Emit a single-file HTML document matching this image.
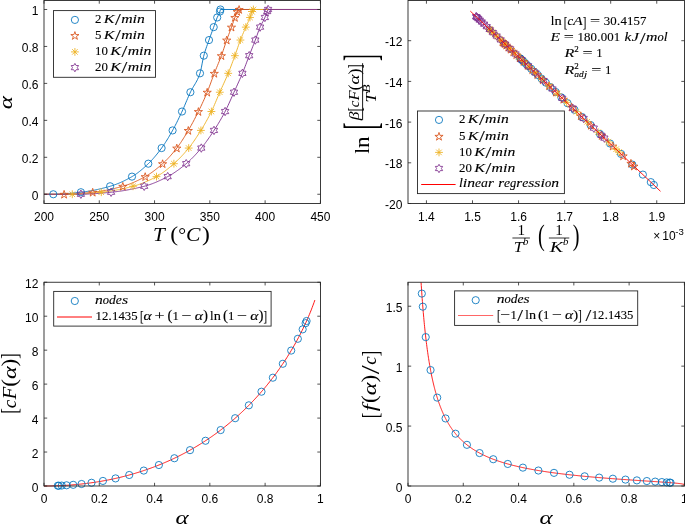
<!DOCTYPE html>
<html><head><meta charset="utf-8"><style>html,body{margin:0;padding:0;background:#fff}svg{display:block}</style></head><body>
<svg width="685" height="524" viewBox="0 0 685 524">
<style>.tk{font-family:'Liberation Sans', Arial, Helvetica, sans-serif;font-size:12px;fill:#000}.s{font-family:'Liberation Serif', 'Times New Roman', serif;fill:#000}.i{font-style:italic}</style>
<defs>
<clipPath id="c1"><rect x="44" y="0.25" width="276.4" height="203.25"/></clipPath>
<clipPath id="c2"><rect x="408" y="0.0" width="276.4" height="203.5"/></clipPath>
<clipPath id="c3"><rect x="44" y="282.25" width="276.4" height="203.75"/></clipPath>
<clipPath id="c4"><rect x="408" y="282.25" width="276.4" height="203.75"/></clipPath>
</defs>
<rect width="685" height="524" fill="#fff"/>
<path d="M44 194.26 L53.3 194.26 L54.06 194.25 L54.83 194.24 L55.59 194.22 L56.35 194.2 L57.12 194.18 L57.88 194.15 L58.64 194.12 L59.4 194.09 L60.17 194.05 L60.93 194.01 L61.69 193.97 L62.46 193.92 L63.22 193.87 L63.98 193.82 L64.75 193.77 L65.51 193.71 L66.27 193.66 L67.03 193.59 L67.8 193.53 L68.56 193.47 L69.32 193.4 L70.09 193.33 L70.85 193.26 L71.61 193.19 L72.38 193.12 L73.14 193.05 L73.9 192.97 L74.66 192.9 L75.43 192.82 L76.19 192.74 L76.95 192.66 L77.72 192.58 L78.48 192.5 L79.24 192.42 L80.01 192.34 L80.77 192.26 L81.53 192.17 L82.29 192.09 L83.06 191.99 L83.82 191.9 L84.58 191.8 L85.35 191.69 L86.11 191.58 L86.87 191.47 L87.64 191.35 L88.4 191.23 L89.16 191.1 L89.92 190.97 L90.69 190.84 L91.45 190.7 L92.21 190.56 L92.98 190.41 L93.74 190.26 L94.5 190.11 L95.27 189.95 L96.03 189.79 L96.79 189.63 L97.55 189.46 L98.32 189.29 L99.08 189.12 L99.84 188.94 L100.61 188.76 L101.37 188.58 L102.13 188.39 L102.9 188.2 L103.66 188.01 L104.42 187.82 L105.18 187.62 L105.95 187.42 L106.71 187.21 L107.47 187.01 L108.24 186.8 L109 186.58 L109.76 186.37 L110.53 186.15 L111.29 185.92 L112.05 185.69 L112.82 185.44 L113.58 185.19 L114.34 184.92 L115.1 184.65 L115.87 184.37 L116.63 184.08 L117.39 183.78 L118.16 183.48 L118.92 183.16 L119.68 182.84 L120.45 182.51 L121.21 182.17 L121.97 181.82 L122.73 181.47 L123.5 181.11 L124.26 180.74 L125.02 180.36 L125.79 179.98 L126.55 179.59 L127.31 179.2 L128.08 178.79 L128.84 178.38 L129.6 177.97 L130.36 177.54 L131.13 177.11 L131.89 176.68 L132.65 176.23 L133.42 175.77 L134.18 175.29 L134.94 174.78 L135.71 174.27 L136.47 173.73 L137.23 173.18 L137.99 172.61 L138.76 172.03 L139.52 171.43 L140.28 170.82 L141.05 170.19 L141.81 169.56 L142.57 168.91 L143.34 168.24 L144.1 167.57 L144.86 166.89 L145.62 166.19 L146.39 165.49 L147.15 164.78 L147.91 164.06 L148.68 163.33 L149.44 162.58 L150.2 161.81 L150.97 161.02 L151.73 160.21 L152.49 159.38 L153.25 158.52 L154.02 157.65 L154.78 156.76 L155.54 155.85 L156.31 154.93 L157.07 153.99 L157.83 153.03 L158.6 152.05 L159.36 151.06 L160.12 150.06 L160.88 149.04 L161.65 148 L162.41 146.95 L163.17 145.86 L163.94 144.74 L164.7 143.6 L165.46 142.43 L166.23 141.23 L166.99 140.01 L167.75 138.77 L168.52 137.51 L169.28 136.22 L170.04 134.92 L170.8 133.6 L171.57 132.26 L172.33 130.91 L173.09 129.53 L173.86 128.13 L174.62 126.69 L175.38 125.22 L176.15 123.72 L176.91 122.19 L177.67 120.64 L178.43 119.07 L179.2 117.48 L179.96 115.88 L180.72 114.26 L181.49 112.63 L182.25 110.99 L183.01 109.3 L183.78 107.57 L184.54 105.79 L185.3 103.99 L186.06 102.17 L186.83 100.36 L187.59 98.56 L188.35 96.78 L189.12 95.03 L189.88 93.34 L190.64 91.71 L191.41 90.2 L192.17 88.81 L192.93 87.5 L193.69 86.23 L194.46 84.98 L195.22 83.71 L195.98 82.39 L196.75 80.99 L197.51 79.47 L198.27 77.81 L199.04 75.97 L199.8 73.91 L200.56 71.35 L201.32 67.85 L202.09 63.86 L202.85 59.88 L203.61 56.4 L204.38 53.63 L205.14 51.12 L205.9 48.78 L206.67 46.58 L207.43 44.45 L208.19 42.33 L208.95 40.19 L209.72 38.02 L210.48 35.9 L211.24 33.82 L212.01 31.75 L212.77 29.68 L213.53 27.59 L214.3 25.46 L215.06 23.27 L215.82 21.09 L216.58 19.02 L217.35 17.13 L218.11 15.67 L218.87 14.32 L219.64 12.6 L220.4 9.49 L320.5 9.49" fill="none" stroke="#0072BD" stroke-width="0.9" stroke-linejoin="round"/>
<path d="M44 194.26 L64.1 194.26 L64.9 194.25 L65.7 194.24 L66.5 194.22 L67.3 194.2 L68.1 194.18 L68.89 194.15 L69.69 194.12 L70.49 194.09 L71.29 194.05 L72.09 194.01 L72.89 193.97 L73.69 193.92 L74.49 193.87 L75.29 193.82 L76.09 193.76 L76.89 193.71 L77.68 193.65 L78.48 193.59 L79.28 193.52 L80.08 193.46 L80.88 193.39 L81.68 193.32 L82.48 193.25 L83.28 193.18 L84.08 193.1 L84.88 193.03 L85.68 192.95 L86.47 192.87 L87.27 192.8 L88.07 192.72 L88.87 192.64 L89.67 192.55 L90.47 192.47 L91.27 192.39 L92.07 192.31 L92.87 192.23 L93.67 192.14 L94.47 192.05 L95.26 191.95 L96.06 191.85 L96.86 191.75 L97.66 191.64 L98.46 191.53 L99.26 191.41 L100.06 191.29 L100.86 191.16 L101.66 191.03 L102.46 190.9 L103.26 190.76 L104.05 190.62 L104.85 190.47 L105.65 190.32 L106.45 190.17 L107.25 190.01 L108.05 189.85 L108.85 189.68 L109.65 189.51 L110.45 189.34 L111.25 189.17 L112.05 188.99 L112.84 188.81 L113.64 188.62 L114.44 188.43 L115.24 188.24 L116.04 188.04 L116.84 187.85 L117.64 187.64 L118.44 187.44 L119.24 187.23 L120.04 187.02 L120.84 186.81 L121.63 186.59 L122.43 186.38 L123.23 186.15 L124.03 185.92 L124.83 185.68 L125.63 185.43 L126.43 185.16 L127.23 184.89 L128.03 184.61 L128.83 184.32 L129.63 184.02 L130.42 183.71 L131.22 183.39 L132.02 183.06 L132.82 182.73 L133.62 182.38 L134.42 182.03 L135.22 181.67 L136.02 181.3 L136.82 180.93 L137.62 180.55 L138.42 180.16 L139.21 179.77 L140.01 179.37 L140.81 178.96 L141.61 178.54 L142.41 178.12 L143.21 177.7 L144.01 177.27 L144.81 176.83 L145.61 176.39 L146.41 175.93 L147.21 175.46 L148 174.97 L148.8 174.46 L149.6 173.94 L150.4 173.41 L151.2 172.86 L152 172.29 L152.8 171.71 L153.6 171.12 L154.4 170.52 L155.2 169.91 L155.99 169.28 L156.79 168.64 L157.59 167.99 L158.39 167.33 L159.19 166.66 L159.99 165.98 L160.79 165.29 L161.59 164.59 L162.39 163.88 L163.19 163.16 L163.99 162.43 L164.78 161.67 L165.58 160.89 L166.38 160.09 L167.18 159.28 L167.98 158.44 L168.78 157.59 L169.58 156.72 L170.38 155.83 L171.18 154.92 L171.98 154 L172.78 153.06 L173.57 152.1 L174.37 151.12 L175.17 150.13 L175.97 149.13 L176.77 148.11 L177.57 147.06 L178.37 145.98 L179.17 144.86 L179.97 143.71 L180.77 142.54 L181.57 141.34 L182.36 140.11 L183.16 138.86 L183.96 137.59 L184.76 136.3 L185.56 134.99 L186.36 133.67 L187.16 132.34 L187.96 131 L188.76 129.65 L189.56 128.27 L190.36 126.87 L191.15 125.44 L191.95 123.99 L192.75 122.51 L193.55 121.02 L194.35 119.5 L195.15 117.97 L195.95 116.41 L196.75 114.84 L197.55 113.25 L198.35 111.64 L199.15 110.02 L199.94 108.37 L200.74 106.7 L201.54 105.01 L202.34 103.3 L203.14 101.56 L203.94 99.79 L204.74 97.98 L205.54 96.15 L206.34 94.28 L207.14 92.37 L207.94 90.4 L208.73 88.34 L209.53 86.22 L210.33 84.05 L211.13 81.86 L211.93 79.66 L212.73 77.48 L213.53 75.34 L214.33 73.25 L215.13 71.23 L215.93 69.27 L216.73 67.33 L217.52 65.41 L218.32 63.48 L219.12 61.53 L219.92 59.54 L220.72 57.49 L221.52 55.35 L222.32 53.1 L223.12 50.75 L223.92 48.34 L224.72 45.91 L225.52 43.5 L226.31 41.15 L227.11 38.9 L227.91 36.73 L228.71 34.6 L229.51 32.48 L230.31 30.36 L231.11 28.21 L231.91 25.99 L232.71 23.7 L233.51 21.39 L234.31 19.12 L235.1 16.91 L235.9 14.56 L236.7 12.45 L237.5 11.07 L238.3 10.07 L239.1 9.49 L320.5 9.49" fill="none" stroke="#D95319" stroke-width="0.9" stroke-linejoin="round"/>
<path d="M44 194.26 L72.3 194.26 L73.13 194.25 L73.95 194.23 L74.78 194.21 L75.61 194.19 L76.43 194.16 L77.26 194.13 L78.09 194.1 L78.92 194.06 L79.74 194.02 L80.57 193.98 L81.4 193.93 L82.22 193.88 L83.05 193.83 L83.88 193.78 L84.7 193.72 L85.53 193.66 L86.36 193.6 L87.18 193.54 L88.01 193.48 L88.84 193.41 L89.67 193.34 L90.49 193.27 L91.32 193.2 L92.15 193.13 L92.97 193.05 L93.8 192.98 L94.63 192.9 L95.45 192.82 L96.28 192.74 L97.11 192.66 L97.94 192.58 L98.76 192.5 L99.59 192.41 L100.42 192.33 L101.24 192.25 L102.07 192.16 L102.9 192.07 L103.72 191.98 L104.55 191.88 L105.38 191.78 L106.2 191.67 L107.03 191.56 L107.86 191.45 L108.69 191.33 L109.51 191.21 L110.34 191.08 L111.17 190.95 L111.99 190.82 L112.82 190.68 L113.65 190.54 L114.47 190.39 L115.3 190.25 L116.13 190.09 L116.95 189.94 L117.78 189.78 L118.61 189.62 L119.44 189.45 L120.26 189.28 L121.09 189.11 L121.92 188.93 L122.74 188.75 L123.57 188.57 L124.4 188.38 L125.22 188.2 L126.05 188 L126.88 187.81 L127.71 187.61 L128.53 187.41 L129.36 187.21 L130.19 187 L131.01 186.79 L131.84 186.58 L132.67 186.36 L133.49 186.14 L134.32 185.91 L135.15 185.68 L135.97 185.43 L136.8 185.17 L137.63 184.91 L138.46 184.63 L139.28 184.35 L140.11 184.05 L140.94 183.75 L141.76 183.44 L142.59 183.12 L143.42 182.79 L144.24 182.46 L145.07 182.12 L145.9 181.76 L146.72 181.4 L147.55 181.04 L148.38 180.66 L149.21 180.28 L150.03 179.89 L150.86 179.5 L151.69 179.09 L152.51 178.68 L153.34 178.27 L154.17 177.84 L154.99 177.42 L155.82 176.98 L156.65 176.54 L157.47 176.08 L158.3 175.6 L159.13 175.1 L159.96 174.58 L160.78 174.04 L161.61 173.49 L162.44 172.92 L163.26 172.33 L164.09 171.73 L164.92 171.11 L165.74 170.48 L166.57 169.83 L167.4 169.18 L168.23 168.51 L169.05 167.83 L169.88 167.14 L170.71 166.45 L171.53 165.74 L172.36 165.03 L173.19 164.32 L174.01 163.59 L174.84 162.86 L175.67 162.11 L176.49 161.34 L177.32 160.55 L178.15 159.74 L178.98 158.92 L179.8 158.09 L180.63 157.23 L181.46 156.36 L182.28 155.48 L183.11 154.58 L183.94 153.66 L184.76 152.72 L185.59 151.77 L186.42 150.81 L187.24 149.83 L188.07 148.83 L188.9 147.82 L189.73 146.79 L190.55 145.72 L191.38 144.63 L192.21 143.5 L193.03 142.36 L193.86 141.19 L194.69 139.99 L195.51 138.78 L196.34 137.54 L197.17 136.29 L197.99 135.01 L198.82 133.73 L199.65 132.42 L200.48 131.1 L201.3 129.77 L202.13 128.42 L202.96 127.05 L203.78 125.66 L204.61 124.24 L205.44 122.79 L206.26 121.32 L207.09 119.83 L207.92 118.3 L208.75 116.74 L209.57 115.16 L210.4 113.54 L211.23 111.88 L212.05 110.18 L212.88 108.4 L213.71 106.55 L214.53 104.64 L215.36 102.7 L216.19 100.73 L217.01 98.76 L217.84 96.79 L218.67 94.83 L219.5 92.91 L220.32 91.04 L221.15 89.19 L221.98 87.37 L222.8 85.56 L223.63 83.75 L224.46 81.93 L225.28 80.1 L226.11 78.23 L226.94 76.33 L227.76 74.38 L228.59 72.37 L229.42 70.3 L230.25 68.18 L231.07 66.02 L231.9 63.83 L232.73 61.6 L233.55 59.36 L234.38 57.1 L235.21 54.83 L236.03 52.49 L236.86 50.09 L237.69 47.66 L238.52 45.26 L239.34 42.91 L240.17 40.66 L241 38.53 L241.82 36.48 L242.65 34.49 L243.48 32.54 L244.3 30.61 L245.13 28.69 L245.96 26.77 L246.78 24.92 L247.61 23.12 L248.44 21.3 L249.27 19.36 L250.09 17.22 L250.92 14.4 L251.75 11.83 L252.57 10.37 L253.4 9.49 L320.5 9.49" fill="none" stroke="#EDB120" stroke-width="0.9" stroke-linejoin="round"/>
<path d="M44 194.26 L80.9 194.26 L81.75 194.25 L82.61 194.23 L83.46 194.21 L84.32 194.19 L85.17 194.16 L86.03 194.13 L86.88 194.1 L87.74 194.06 L88.59 194.02 L89.45 193.98 L90.3 193.93 L91.16 193.89 L92.01 193.84 L92.87 193.78 L93.72 193.73 L94.58 193.67 L95.43 193.61 L96.29 193.55 L97.14 193.48 L98 193.42 L98.85 193.35 L99.71 193.28 L100.56 193.21 L101.42 193.14 L102.27 193.06 L103.12 192.99 L103.98 192.91 L104.83 192.84 L105.69 192.76 L106.54 192.68 L107.4 192.6 L108.25 192.52 L109.11 192.43 L109.96 192.35 L110.82 192.27 L111.67 192.19 L112.53 192.1 L113.38 192.01 L114.24 191.91 L115.09 191.81 L115.95 191.71 L116.8 191.6 L117.66 191.49 L118.51 191.38 L119.37 191.26 L120.22 191.14 L121.08 191.01 L121.93 190.88 L122.78 190.75 L123.64 190.61 L124.49 190.47 L125.35 190.32 L126.2 190.18 L127.06 190.02 L127.91 189.87 L128.77 189.71 L129.62 189.55 L130.48 189.38 L131.33 189.21 L132.19 189.04 L133.04 188.87 L133.9 188.69 L134.75 188.51 L135.61 188.32 L136.46 188.13 L137.32 187.94 L138.17 187.74 L139.03 187.54 L139.88 187.34 L140.74 187.14 L141.59 186.93 L142.45 186.72 L143.3 186.5 L144.15 186.29 L145.01 186.06 L145.86 185.82 L146.72 185.58 L147.57 185.32 L148.43 185.05 L149.28 184.76 L150.14 184.47 L150.99 184.17 L151.85 183.86 L152.7 183.54 L153.56 183.2 L154.41 182.86 L155.27 182.51 L156.12 182.16 L156.98 181.79 L157.83 181.42 L158.69 181.03 L159.54 180.65 L160.4 180.25 L161.25 179.85 L162.11 179.44 L162.96 179.02 L163.82 178.6 L164.67 178.17 L165.52 177.74 L166.38 177.3 L167.23 176.86 L168.09 176.41 L168.94 175.95 L169.8 175.47 L170.65 174.98 L171.51 174.47 L172.36 173.94 L173.22 173.4 L174.07 172.85 L174.93 172.28 L175.78 171.7 L176.64 171.11 L177.49 170.5 L178.35 169.88 L179.2 169.25 L180.06 168.61 L180.91 167.96 L181.77 167.29 L182.62 166.62 L183.48 165.94 L184.33 165.24 L185.18 164.54 L186.04 163.83 L186.89 163.1 L187.75 162.36 L188.6 161.59 L189.46 160.8 L190.31 159.99 L191.17 159.16 L192.02 158.31 L192.88 157.45 L193.73 156.56 L194.59 155.66 L195.44 154.74 L196.3 153.81 L197.15 152.86 L198.01 151.9 L198.86 150.92 L199.72 149.93 L200.57 148.93 L201.43 147.92 L202.28 146.88 L203.14 145.82 L203.99 144.73 L204.85 143.61 L205.7 142.47 L206.55 141.31 L207.41 140.13 L208.26 138.92 L209.12 137.7 L209.97 136.46 L210.83 135.2 L211.68 133.93 L212.54 132.65 L213.39 131.35 L214.25 130.04 L215.1 128.72 L215.96 127.38 L216.81 126.02 L217.67 124.63 L218.52 123.23 L219.38 121.8 L220.23 120.35 L221.09 118.87 L221.94 117.36 L222.8 115.83 L223.65 114.26 L224.51 112.66 L225.36 111.03 L226.22 109.33 L227.07 107.57 L227.92 105.76 L228.78 103.9 L229.63 102.01 L230.49 100.1 L231.34 98.17 L232.2 96.25 L233.05 94.32 L233.91 92.42 L234.76 90.54 L235.62 88.66 L236.47 86.79 L237.33 84.92 L238.18 83.03 L239.04 81.12 L239.89 79.19 L240.75 77.23 L241.6 75.23 L242.46 73.19 L243.31 71.08 L244.17 68.91 L245.02 66.69 L245.88 64.44 L246.73 62.18 L247.58 59.91 L248.44 57.66 L249.29 55.44 L250.15 53.25 L251 51.07 L251.86 48.9 L252.71 46.73 L253.57 44.55 L254.42 42.34 L255.28 40.11 L256.13 37.8 L256.99 35.41 L257.84 33 L258.7 30.65 L259.55 28.44 L260.41 26.44 L261.26 24.66 L262.12 23.02 L262.97 21.42 L263.83 19.77 L264.68 17.97 L265.54 15.9 L266.39 13.59 L267.25 11.4 L268.1 9.49 L320.5 9.49" fill="none" stroke="#7E2F8E" stroke-width="0.9" stroke-linejoin="round"/>
<circle cx="53.3" cy="194.26" r="3.6" fill="none" stroke="#0072BD" stroke-width="0.85"/>
<circle cx="80.9" cy="192.24" r="3.6" fill="none" stroke="#0072BD" stroke-width="0.85"/>
<circle cx="110.1" cy="186.27" r="3.6" fill="none" stroke="#0072BD" stroke-width="0.85"/>
<circle cx="132" cy="176.62" r="3.6" fill="none" stroke="#0072BD" stroke-width="0.85"/>
<circle cx="148.3" cy="163.69" r="3.6" fill="none" stroke="#0072BD" stroke-width="0.85"/>
<circle cx="161.6" cy="148.07" r="3.6" fill="none" stroke="#0072BD" stroke-width="0.85"/>
<circle cx="172.6" cy="130.42" r="3.6" fill="none" stroke="#0072BD" stroke-width="0.85"/>
<circle cx="182" cy="111.53" r="3.6" fill="none" stroke="#0072BD" stroke-width="0.85"/>
<circle cx="190.4" cy="92.22" r="3.6" fill="none" stroke="#0072BD" stroke-width="0.85"/>
<circle cx="200" cy="73.33" r="3.6" fill="none" stroke="#0072BD" stroke-width="0.85"/>
<circle cx="203.8" cy="55.68" r="3.6" fill="none" stroke="#0072BD" stroke-width="0.85"/>
<circle cx="209" cy="40.06" r="3.6" fill="none" stroke="#0072BD" stroke-width="0.85"/>
<circle cx="213.7" cy="27.13" r="3.6" fill="none" stroke="#0072BD" stroke-width="0.85"/>
<circle cx="217.2" cy="17.48" r="3.6" fill="none" stroke="#0072BD" stroke-width="0.85"/>
<circle cx="220" cy="11.51" r="3.6" fill="none" stroke="#0072BD" stroke-width="0.85"/>
<circle cx="220.4" cy="9.49" r="3.6" fill="none" stroke="#0072BD" stroke-width="0.85"/>
<polygon points="64.1,190.36 65.07,193.33 68.19,193.33 65.66,195.17 66.63,198.14 64.1,196.3 61.57,198.14 62.54,195.17 60.01,193.33 63.13,193.33" fill="none" stroke="#D95319" stroke-width="0.85" stroke-linejoin="miter"/>
<polygon points="92.7,188.34 93.67,191.31 96.79,191.31 94.26,193.15 95.23,196.12 92.7,194.29 90.17,196.12 91.14,193.15 88.61,191.31 91.73,191.31" fill="none" stroke="#D95319" stroke-width="0.85" stroke-linejoin="miter"/>
<polygon points="122.8,182.37 123.77,185.35 126.89,185.35 124.36,187.18 125.33,190.15 122.8,188.32 120.27,190.15 121.24,187.18 118.71,185.35 121.83,185.35" fill="none" stroke="#D95319" stroke-width="0.85" stroke-linejoin="miter"/>
<polygon points="145.2,172.72 146.17,175.69 149.29,175.69 146.76,177.52 147.73,180.5 145.2,178.66 142.67,180.5 143.64,177.52 141.11,175.69 144.23,175.69" fill="none" stroke="#D95319" stroke-width="0.85" stroke-linejoin="miter"/>
<polygon points="162.6,159.79 163.57,162.76 166.69,162.76 164.16,164.6 165.13,167.57 162.6,165.74 160.07,167.57 161.04,164.6 158.51,162.76 161.63,162.76" fill="none" stroke="#D95319" stroke-width="0.85" stroke-linejoin="miter"/>
<polygon points="176.8,144.17 177.77,147.14 180.89,147.14 178.36,148.98 179.33,151.95 176.8,150.11 174.27,151.95 175.24,148.98 172.71,147.14 175.83,147.14" fill="none" stroke="#D95319" stroke-width="0.85" stroke-linejoin="miter"/>
<polygon points="188.3,126.52 189.27,129.5 192.39,129.5 189.86,131.33 190.83,134.3 188.3,132.47 185.77,134.3 186.74,131.33 184.21,129.5 187.33,129.5" fill="none" stroke="#D95319" stroke-width="0.85" stroke-linejoin="miter"/>
<polygon points="198.4,107.63 199.37,110.6 202.49,110.6 199.96,112.44 200.93,115.41 198.4,113.57 195.87,115.41 196.84,112.44 194.31,110.6 197.43,110.6" fill="none" stroke="#D95319" stroke-width="0.85" stroke-linejoin="miter"/>
<polygon points="207.2,88.32 208.17,91.29 211.29,91.29 208.76,93.13 209.73,96.1 207.2,94.26 204.67,96.1 205.64,93.13 203.11,91.29 206.23,91.29" fill="none" stroke="#D95319" stroke-width="0.85" stroke-linejoin="miter"/>
<polygon points="214.3,69.43 215.27,72.4 218.39,72.4 215.86,74.23 216.83,77.2 214.3,75.37 211.77,77.2 212.74,74.23 210.21,72.4 213.33,72.4" fill="none" stroke="#D95319" stroke-width="0.85" stroke-linejoin="miter"/>
<polygon points="221.4,51.78 222.37,54.75 225.49,54.75 222.96,56.59 223.93,59.56 221.4,57.72 218.87,59.56 219.84,56.59 217.31,54.75 220.43,54.75" fill="none" stroke="#D95319" stroke-width="0.85" stroke-linejoin="miter"/>
<polygon points="226.7,36.16 227.67,39.13 230.79,39.13 228.26,40.96 229.23,43.94 226.7,42.1 224.17,43.94 225.14,40.96 222.61,39.13 225.73,39.13" fill="none" stroke="#D95319" stroke-width="0.85" stroke-linejoin="miter"/>
<polygon points="231.5,23.23 232.47,26.2 235.59,26.2 233.06,28.04 234.03,31.01 231.5,29.18 228.97,31.01 229.94,28.04 227.41,26.2 230.53,26.2" fill="none" stroke="#D95319" stroke-width="0.85" stroke-linejoin="miter"/>
<polygon points="234.9,13.58 235.87,16.55 238.99,16.55 236.46,18.38 237.43,21.35 234.9,19.52 232.37,21.35 233.34,18.38 230.81,16.55 233.93,16.55" fill="none" stroke="#D95319" stroke-width="0.85" stroke-linejoin="miter"/>
<polygon points="237.2,7.61 238.17,10.58 241.29,10.58 238.76,12.42 239.73,15.39 237.2,13.55 234.67,15.39 235.64,12.42 233.11,10.58 236.23,10.58" fill="none" stroke="#D95319" stroke-width="0.85" stroke-linejoin="miter"/>
<polygon points="239.1,5.59 240.07,8.56 243.19,8.56 240.66,10.4 241.63,13.37 239.1,11.53 236.57,13.37 237.54,10.4 235.01,8.56 238.13,8.56" fill="none" stroke="#D95319" stroke-width="0.85" stroke-linejoin="miter"/>
<path d="M68.4 194.26L76.2 194.26M69.54 191.5L75.06 197.02M72.3 190.36L72.3 198.16M75.06 191.5L69.54 197.02" stroke="#EDB120" stroke-width="0.85" fill="none"/>
<path d="M97.4 192.24L105.2 192.24M98.54 189.48L104.06 195M101.3 188.34L101.3 196.14M104.06 189.48L98.54 195" stroke="#EDB120" stroke-width="0.85" fill="none"/>
<path d="M129.1 186.27L136.9 186.27M130.24 183.52L135.76 189.03M133 182.37L133 190.17M135.76 183.52L130.24 189.03" stroke="#EDB120" stroke-width="0.85" fill="none"/>
<path d="M152.6 176.62L160.4 176.62M153.74 173.86L159.26 179.37M156.5 172.72L156.5 180.52M159.26 173.86L153.74 179.37" stroke="#EDB120" stroke-width="0.85" fill="none"/>
<path d="M170 163.69L177.8 163.69M171.14 160.94L176.66 166.45M173.9 159.79L173.9 167.59M176.66 160.94L171.14 166.45" stroke="#EDB120" stroke-width="0.85" fill="none"/>
<path d="M184.8 148.07L192.6 148.07M185.94 145.31L191.46 150.83M188.7 144.17L188.7 151.97M191.46 145.31L185.94 150.83" stroke="#EDB120" stroke-width="0.85" fill="none"/>
<path d="M197 130.42L204.8 130.42M198.14 127.67L203.66 133.18M200.9 126.52L200.9 134.32M203.66 127.67L198.14 133.18" stroke="#EDB120" stroke-width="0.85" fill="none"/>
<path d="M207.5 111.53L215.3 111.53M208.64 108.77L214.16 114.29M211.4 107.63L211.4 115.43M214.16 108.77L208.64 114.29" stroke="#EDB120" stroke-width="0.85" fill="none"/>
<path d="M215.9 92.22L223.7 92.22M217.04 89.46L222.56 94.98M219.8 88.32L219.8 96.12M222.56 89.46L217.04 94.98" stroke="#EDB120" stroke-width="0.85" fill="none"/>
<path d="M224.3 73.33L232.1 73.33M225.44 70.57L230.96 76.08M228.2 69.43L228.2 77.23M230.96 70.57L225.44 76.08" stroke="#EDB120" stroke-width="0.85" fill="none"/>
<path d="M231 55.68L238.8 55.68M232.14 52.92L237.66 58.44M234.9 51.78L234.9 59.58M237.66 52.92L232.14 58.44" stroke="#EDB120" stroke-width="0.85" fill="none"/>
<path d="M236.5 40.06L244.3 40.06M237.64 37.3L243.16 42.81M240.4 36.16L240.4 43.96M243.16 37.3L237.64 42.81" stroke="#EDB120" stroke-width="0.85" fill="none"/>
<path d="M241.9 27.13L249.7 27.13M243.04 24.38L248.56 29.89M245.8 23.23L245.8 31.03M248.56 24.38L243.04 29.89" stroke="#EDB120" stroke-width="0.85" fill="none"/>
<path d="M246.1 17.48L253.9 17.48M247.24 14.72L252.76 20.23M250 13.58L250 21.38M252.76 14.72L247.24 20.23" stroke="#EDB120" stroke-width="0.85" fill="none"/>
<path d="M248 11.51L255.8 11.51M249.14 8.75L254.66 14.27M251.9 7.61L251.9 15.41M254.66 8.75L249.14 14.27" stroke="#EDB120" stroke-width="0.85" fill="none"/>
<path d="M249.5 9.49L257.3 9.49M250.64 6.73L256.16 12.25M253.4 5.59L253.4 13.39M256.16 6.73L250.64 12.25" stroke="#EDB120" stroke-width="0.85" fill="none"/>
<polygon points="80.9,190.06 82.11,192.16 84.54,192.16 83.32,194.26 84.54,196.36 82.11,196.36 80.9,198.46 79.69,196.36 77.26,196.36 78.48,194.26 77.26,192.16 79.69,192.16" fill="none" stroke="#7E2F8E" stroke-width="0.85" stroke-linejoin="miter"/>
<polygon points="111.1,188.04 112.31,190.14 114.74,190.14 113.52,192.24 114.74,194.34 112.31,194.34 111.1,196.44 109.89,194.34 107.46,194.34 108.68,192.24 107.46,190.14 109.89,190.14" fill="none" stroke="#7E2F8E" stroke-width="0.85" stroke-linejoin="miter"/>
<polygon points="144.2,182.07 145.41,184.17 147.84,184.17 146.62,186.27 147.84,188.37 145.41,188.37 144.2,190.47 142.99,188.37 140.56,188.37 141.78,186.27 140.56,184.17 142.99,184.17" fill="none" stroke="#7E2F8E" stroke-width="0.85" stroke-linejoin="miter"/>
<polygon points="167.7,172.42 168.91,174.52 171.34,174.52 170.12,176.62 171.34,178.72 168.91,178.72 167.7,180.82 166.49,178.72 164.06,178.72 165.28,176.62 164.06,174.52 166.49,174.52" fill="none" stroke="#7E2F8E" stroke-width="0.85" stroke-linejoin="miter"/>
<polygon points="186.2,159.49 187.41,161.59 189.84,161.59 188.62,163.69 189.84,165.79 187.41,165.79 186.2,167.89 184.99,165.79 182.56,165.79 183.78,163.69 182.56,161.59 184.99,161.59" fill="none" stroke="#7E2F8E" stroke-width="0.85" stroke-linejoin="miter"/>
<polygon points="201.3,143.87 202.51,145.97 204.94,145.97 203.72,148.07 204.94,150.17 202.51,150.17 201.3,152.27 200.09,150.17 197.66,150.17 198.88,148.07 197.66,145.97 200.09,145.97" fill="none" stroke="#7E2F8E" stroke-width="0.85" stroke-linejoin="miter"/>
<polygon points="214,126.22 215.21,128.32 217.64,128.32 216.42,130.42 217.64,132.52 215.21,132.52 214,134.62 212.79,132.52 210.36,132.52 211.58,130.42 210.36,128.32 212.79,128.32" fill="none" stroke="#7E2F8E" stroke-width="0.85" stroke-linejoin="miter"/>
<polygon points="225.1,107.33 226.31,109.43 228.74,109.43 227.52,111.53 228.74,113.63 226.31,113.63 225.1,115.73 223.89,113.63 221.46,113.63 222.68,111.53 221.46,109.43 223.89,109.43" fill="none" stroke="#7E2F8E" stroke-width="0.85" stroke-linejoin="miter"/>
<polygon points="234,88.02 235.21,90.12 237.64,90.12 236.42,92.22 237.64,94.32 235.21,94.32 234,96.42 232.79,94.32 230.36,94.32 231.58,92.22 230.36,90.12 232.79,90.12" fill="none" stroke="#7E2F8E" stroke-width="0.85" stroke-linejoin="miter"/>
<polygon points="242.4,69.13 243.61,71.23 246.04,71.23 244.82,73.33 246.04,75.43 243.61,75.43 242.4,77.53 241.19,75.43 238.76,75.43 239.98,73.33 238.76,71.23 241.19,71.23" fill="none" stroke="#7E2F8E" stroke-width="0.85" stroke-linejoin="miter"/>
<polygon points="249.2,51.48 250.41,53.58 252.84,53.58 251.62,55.68 252.84,57.78 250.41,57.78 249.2,59.88 247.99,57.78 245.56,57.78 246.78,55.68 245.56,53.58 247.99,53.58" fill="none" stroke="#7E2F8E" stroke-width="0.85" stroke-linejoin="miter"/>
<polygon points="255.3,35.86 256.51,37.96 258.94,37.96 257.72,40.06 258.94,42.16 256.51,42.16 255.3,44.26 254.09,42.16 251.66,42.16 252.88,40.06 251.66,37.96 254.09,37.96" fill="none" stroke="#7E2F8E" stroke-width="0.85" stroke-linejoin="miter"/>
<polygon points="260.1,22.93 261.31,25.03 263.74,25.03 262.52,27.13 263.74,29.23 261.31,29.23 260.1,31.33 258.89,29.23 256.46,29.23 257.68,27.13 256.46,25.03 258.89,25.03" fill="none" stroke="#7E2F8E" stroke-width="0.85" stroke-linejoin="miter"/>
<polygon points="264.9,13.28 266.11,15.38 268.54,15.38 267.32,17.48 268.54,19.58 266.11,19.58 264.9,21.68 263.69,19.58 261.26,19.58 262.48,17.48 261.26,15.38 263.69,15.38" fill="none" stroke="#7E2F8E" stroke-width="0.85" stroke-linejoin="miter"/>
<polygon points="267.2,7.31 268.41,9.41 270.84,9.41 269.62,11.51 270.84,13.61 268.41,13.61 267.2,15.71 265.99,13.61 263.56,13.61 264.78,11.51 263.56,9.41 265.99,9.41" fill="none" stroke="#7E2F8E" stroke-width="0.85" stroke-linejoin="miter"/>
<polygon points="268.1,5.29 269.31,7.39 271.74,7.39 270.52,9.49 271.74,11.59 269.31,11.59 268.1,13.69 266.89,11.59 264.46,11.59 265.68,9.49 264.46,7.39 266.89,7.39" fill="none" stroke="#7E2F8E" stroke-width="0.85" stroke-linejoin="miter"/>
<path d="M44 203.5V200.3M44 0.5V3.7M99.28 203.5V200.3M99.28 0.5V3.7M154.56 203.5V200.3M154.56 0.5V3.7M209.84 203.5V200.3M209.84 0.5V3.7M265.12 203.5V200.3M265.12 0.5V3.7M320.4 203.5V200.3M320.4 0.5V3.7M44 194.26H47.2M320.5 194.26H317.3M44 157.31H47.2M320.5 157.31H317.3M44 120.35H47.2M320.5 120.35H317.3M44 83.4H47.2M320.5 83.4H317.3M44 46.44H47.2M320.5 46.44H317.3M44 9.49H47.2M320.5 9.49H317.3" stroke="#262626" stroke-width="0.8" fill="none"/>
<rect x="44" y="0.5" width="276.5" height="203" fill="none" stroke="#262626" stroke-width="0.9"/>
<text x="44" y="220.7" text-anchor="middle" class="tk">200</text>
<text x="99.28" y="220.7" text-anchor="middle" class="tk">250</text>
<text x="154.56" y="220.7" text-anchor="middle" class="tk">300</text>
<text x="209.84" y="220.7" text-anchor="middle" class="tk">350</text>
<text x="265.12" y="220.7" text-anchor="middle" class="tk">400</text>
<text x="320.4" y="220.7" text-anchor="middle" class="tk">450</text>
<text x="38.4" y="199.86" text-anchor="end" class="tk">0</text>
<text x="38.4" y="162.91" text-anchor="end" class="tk">0.2</text>
<text x="38.4" y="125.95" text-anchor="end" class="tk">0.4</text>
<text x="38.4" y="89" text-anchor="end" class="tk">0.6</text>
<text x="38.4" y="52.04" text-anchor="end" class="tk">0.8</text>
<text x="38.4" y="15.09" text-anchor="end" class="tk">1</text>
<circle cx="653.84" cy="184.99" r="3.6" fill="none" stroke="#0072BD" stroke-width="0.85"/>
<circle cx="650.81" cy="182.12" r="3.6" fill="none" stroke="#0072BD" stroke-width="0.85"/>
<circle cx="642.87" cy="174.6" r="3.6" fill="none" stroke="#0072BD" stroke-width="0.85"/>
<circle cx="632.31" cy="164.6" r="3.6" fill="none" stroke="#0072BD" stroke-width="0.85"/>
<circle cx="621.04" cy="153.92" r="3.6" fill="none" stroke="#0072BD" stroke-width="0.85"/>
<circle cx="610.09" cy="143.54" r="3.6" fill="none" stroke="#0072BD" stroke-width="0.85"/>
<circle cx="599.9" cy="133.89" r="3.6" fill="none" stroke="#0072BD" stroke-width="0.85"/>
<circle cx="590.59" cy="125.07" r="3.6" fill="none" stroke="#0072BD" stroke-width="0.85"/>
<circle cx="582.15" cy="117.07" r="3.6" fill="none" stroke="#0072BD" stroke-width="0.85"/>
<circle cx="574.51" cy="109.83" r="3.6" fill="none" stroke="#0072BD" stroke-width="0.85"/>
<circle cx="567.6" cy="103.28" r="3.6" fill="none" stroke="#0072BD" stroke-width="0.85"/>
<circle cx="561.33" cy="97.35" r="3.6" fill="none" stroke="#0072BD" stroke-width="0.85"/>
<circle cx="555.66" cy="91.97" r="3.6" fill="none" stroke="#0072BD" stroke-width="0.85"/>
<circle cx="550.51" cy="87.09" r="3.6" fill="none" stroke="#0072BD" stroke-width="0.85"/>
<circle cx="545.83" cy="82.66" r="3.6" fill="none" stroke="#0072BD" stroke-width="0.85"/>
<circle cx="541.59" cy="78.64" r="3.6" fill="none" stroke="#0072BD" stroke-width="0.85"/>
<circle cx="537.76" cy="75.01" r="3.6" fill="none" stroke="#0072BD" stroke-width="0.85"/>
<circle cx="534.31" cy="71.74" r="3.6" fill="none" stroke="#0072BD" stroke-width="0.85"/>
<circle cx="531.22" cy="68.82" r="3.6" fill="none" stroke="#0072BD" stroke-width="0.85"/>
<circle cx="528.49" cy="66.23" r="3.6" fill="none" stroke="#0072BD" stroke-width="0.85"/>
<circle cx="526.11" cy="63.97" r="3.6" fill="none" stroke="#0072BD" stroke-width="0.85"/>
<circle cx="524.09" cy="62.06" r="3.6" fill="none" stroke="#0072BD" stroke-width="0.85"/>
<circle cx="522.46" cy="60.52" r="3.6" fill="none" stroke="#0072BD" stroke-width="0.85"/>
<circle cx="521.24" cy="59.36" r="3.6" fill="none" stroke="#0072BD" stroke-width="0.85"/>
<circle cx="520.48" cy="58.64" r="3.6" fill="none" stroke="#0072BD" stroke-width="0.85"/>
<circle cx="520.22" cy="58.4" r="3.6" fill="none" stroke="#0072BD" stroke-width="0.85"/>
<polygon points="633.92,162.22 634.88,165.19 638.01,165.19 635.48,167.02 636.45,169.99 633.92,168.16 631.39,169.99 632.36,167.02 629.83,165.19 632.95,165.19" fill="none" stroke="#D95319" stroke-width="0.85" stroke-linejoin="miter"/>
<polygon points="630.94,159.39 631.9,162.36 635.03,162.36 632.5,164.2 633.46,167.17 630.94,165.33 628.41,167.17 629.37,164.2 626.85,162.36 629.97,162.36" fill="none" stroke="#D95319" stroke-width="0.85" stroke-linejoin="miter"/>
<polygon points="623.11,151.98 624.08,154.95 627.2,154.95 624.68,156.79 625.64,159.76 623.11,157.92 620.59,159.76 621.55,156.79 619.02,154.95 622.15,154.95" fill="none" stroke="#D95319" stroke-width="0.85" stroke-linejoin="miter"/>
<polygon points="612.72,142.13 613.69,145.11 616.81,145.11 614.28,146.94 615.25,149.91 612.72,148.08 610.2,149.91 611.16,146.94 608.63,145.11 611.76,145.11" fill="none" stroke="#D95319" stroke-width="0.85" stroke-linejoin="miter"/>
<polygon points="601.63,131.62 602.59,134.59 605.72,134.59 603.19,136.43 604.16,139.4 601.63,137.57 599.1,139.4 600.07,136.43 597.54,134.59 600.66,134.59" fill="none" stroke="#D95319" stroke-width="0.85" stroke-linejoin="miter"/>
<polygon points="590.85,121.41 591.82,124.38 594.94,124.38 592.41,126.22 593.38,129.19 590.85,127.36 588.32,129.19 589.29,126.22 586.76,124.38 589.89,124.38" fill="none" stroke="#D95319" stroke-width="0.85" stroke-linejoin="miter"/>
<polygon points="580.82,111.91 581.79,114.88 584.91,114.88 582.38,116.72 583.35,119.69 580.82,117.85 578.29,119.69 579.26,116.72 576.73,114.88 579.85,114.88" fill="none" stroke="#D95319" stroke-width="0.85" stroke-linejoin="miter"/>
<polygon points="571.66,103.23 572.62,106.2 575.75,106.2 573.22,108.04 574.19,111.01 571.66,109.17 569.13,111.01 570.1,108.04 567.57,106.2 570.69,106.2" fill="none" stroke="#D95319" stroke-width="0.85" stroke-linejoin="miter"/>
<polygon points="563.35,95.36 564.32,98.33 567.44,98.33 564.91,100.17 565.88,103.14 563.35,101.3 560.82,103.14 561.79,100.17 559.26,98.33 562.39,98.33" fill="none" stroke="#D95319" stroke-width="0.85" stroke-linejoin="miter"/>
<polygon points="555.84,88.24 556.8,91.21 559.93,91.21 557.4,93.05 558.36,96.02 555.84,94.18 553.31,96.02 554.27,93.05 551.75,91.21 554.87,91.21" fill="none" stroke="#D95319" stroke-width="0.85" stroke-linejoin="miter"/>
<polygon points="549.04,81.8 550,84.77 553.13,84.77 550.6,86.61 551.57,89.58 549.04,87.74 546.51,89.58 547.48,86.61 544.95,84.77 548.07,84.77" fill="none" stroke="#D95319" stroke-width="0.85" stroke-linejoin="miter"/>
<polygon points="542.88,75.96 543.85,78.94 546.97,78.94 544.44,80.77 545.41,83.74 542.88,81.91 540.35,83.74 541.32,80.77 538.79,78.94 541.91,78.94" fill="none" stroke="#D95319" stroke-width="0.85" stroke-linejoin="miter"/>
<polygon points="537.3,70.67 538.26,73.65 541.39,73.65 538.86,75.48 539.82,78.45 537.3,76.62 534.77,78.45 535.73,75.48 533.21,73.65 536.33,73.65" fill="none" stroke="#D95319" stroke-width="0.85" stroke-linejoin="miter"/>
<polygon points="532.23,65.87 533.2,68.85 536.32,68.85 533.79,70.68 534.76,73.65 532.23,71.82 529.7,73.65 530.67,70.68 528.14,68.85 531.26,68.85" fill="none" stroke="#D95319" stroke-width="0.85" stroke-linejoin="miter"/>
<polygon points="527.63,61.52 528.6,64.49 531.72,64.49 529.2,66.33 530.16,69.3 527.63,67.46 525.11,69.3 526.07,66.33 523.54,64.49 526.67,64.49" fill="none" stroke="#D95319" stroke-width="0.85" stroke-linejoin="miter"/>
<polygon points="523.47,57.57 524.43,60.54 527.56,60.54 525.03,62.38 525.99,65.35 523.47,63.51 520.94,65.35 521.9,62.38 519.38,60.54 522.5,60.54" fill="none" stroke="#D95319" stroke-width="0.85" stroke-linejoin="miter"/>
<polygon points="519.7,54 520.66,56.97 523.79,56.97 521.26,58.81 522.23,61.78 519.7,59.94 517.17,61.78 518.14,58.81 515.61,56.97 518.73,56.97" fill="none" stroke="#D95319" stroke-width="0.85" stroke-linejoin="miter"/>
<polygon points="516.3,50.79 517.27,53.76 520.39,53.76 517.87,55.59 518.83,58.56 516.3,56.73 513.78,58.56 514.74,55.59 512.22,53.76 515.34,53.76" fill="none" stroke="#D95319" stroke-width="0.85" stroke-linejoin="miter"/>
<polygon points="513.27,47.91 514.23,50.88 517.36,50.88 514.83,52.72 515.8,55.69 513.27,53.85 510.74,55.69 511.71,52.72 509.18,50.88 512.3,50.88" fill="none" stroke="#D95319" stroke-width="0.85" stroke-linejoin="miter"/>
<polygon points="510.58,45.36 511.55,48.34 514.67,48.34 512.14,50.17 513.11,53.14 510.58,51.31 508.06,53.14 509.02,50.17 506.49,48.34 509.62,48.34" fill="none" stroke="#D95319" stroke-width="0.85" stroke-linejoin="miter"/>
<polygon points="508.24,43.15 509.21,46.12 512.33,46.12 509.81,47.96 510.77,50.93 508.24,49.09 505.72,50.93 506.68,47.96 504.15,46.12 507.28,46.12" fill="none" stroke="#D95319" stroke-width="0.85" stroke-linejoin="miter"/>
<polygon points="506.26,41.27 507.23,44.24 510.35,44.24 507.82,46.08 508.79,49.05 506.26,47.21 503.73,49.05 504.7,46.08 502.17,44.24 505.3,44.24" fill="none" stroke="#D95319" stroke-width="0.85" stroke-linejoin="miter"/>
<polygon points="504.66,39.75 505.62,42.72 508.75,42.72 506.22,44.56 507.18,47.53 504.66,45.69 502.13,47.53 503.09,44.56 500.57,42.72 503.69,42.72" fill="none" stroke="#D95319" stroke-width="0.85" stroke-linejoin="miter"/>
<polygon points="503.46,38.62 504.43,41.59 507.55,41.59 505.02,43.42 505.99,46.4 503.46,44.56 500.93,46.4 501.9,43.42 499.37,41.59 502.49,41.59" fill="none" stroke="#D95319" stroke-width="0.85" stroke-linejoin="miter"/>
<polygon points="502.72,37.91 503.68,40.88 506.8,40.88 504.28,42.72 505.24,45.69 502.72,43.85 500.19,45.69 501.15,42.72 498.63,40.88 501.75,40.88" fill="none" stroke="#D95319" stroke-width="0.85" stroke-linejoin="miter"/>
<polygon points="502.46,37.67 503.43,40.64 506.55,40.64 504.02,42.48 504.99,45.45 502.46,43.61 499.93,45.45 500.9,42.48 498.37,40.64 501.5,40.64" fill="none" stroke="#D95319" stroke-width="0.85" stroke-linejoin="miter"/>
<path d="M615.15 152.03L622.95 152.03M616.29 149.27L621.81 154.79M619.05 148.13L619.05 155.93M621.81 149.27L616.29 154.79" stroke="#EDB120" stroke-width="0.85" fill="none"/>
<path d="M612.2 149.24L620 149.24M613.35 146.48L618.86 152M616.1 145.34L616.1 153.14M618.86 146.48L613.35 152" stroke="#EDB120" stroke-width="0.85" fill="none"/>
<path d="M604.47 141.91L612.27 141.91M605.61 139.16L611.13 144.67M608.37 138.01L608.37 145.81M611.13 139.16L605.61 144.67" stroke="#EDB120" stroke-width="0.85" fill="none"/>
<path d="M594.21 132.19L602.01 132.19M595.35 129.43L600.86 134.94M598.11 128.29L598.11 136.09M600.86 129.43L595.35 134.94" stroke="#EDB120" stroke-width="0.85" fill="none"/>
<path d="M583.24 121.8L591.04 121.8M584.39 119.04L589.9 124.56M587.14 117.9L587.14 125.7M589.9 119.04L584.39 124.56" stroke="#EDB120" stroke-width="0.85" fill="none"/>
<path d="M572.6 111.71L580.4 111.71M573.74 108.96L579.26 114.47M576.5 107.81L576.5 115.61M579.26 108.96L573.74 114.47" stroke="#EDB120" stroke-width="0.85" fill="none"/>
<path d="M562.69 102.33L570.49 102.33M563.83 99.57L569.35 105.09M566.59 98.43L566.59 106.23M569.35 99.57L563.83 105.09" stroke="#EDB120" stroke-width="0.85" fill="none"/>
<path d="M553.64 93.75L561.44 93.75M554.78 91L560.3 96.51M557.54 89.85L557.54 97.65M560.3 91L554.78 96.51" stroke="#EDB120" stroke-width="0.85" fill="none"/>
<path d="M545.44 85.98L553.24 85.98M546.58 83.22L552.09 88.74M549.34 82.08L549.34 89.88M552.09 83.22L546.58 88.74" stroke="#EDB120" stroke-width="0.85" fill="none"/>
<path d="M538.02 78.95L545.82 78.95M539.16 76.19L544.67 81.71M541.92 75.05L541.92 82.85M544.67 76.19L539.16 81.71" stroke="#EDB120" stroke-width="0.85" fill="none"/>
<path d="M531.3 72.59L539.1 72.59M532.45 69.83L537.96 75.35M535.2 68.69L535.2 76.49M537.96 69.83L532.45 75.35" stroke="#EDB120" stroke-width="0.85" fill="none"/>
<path d="M525.22 66.83L533.02 66.83M526.37 64.07L531.88 69.59M529.12 62.93L529.12 70.73M531.88 64.07L526.37 69.59" stroke="#EDB120" stroke-width="0.85" fill="none"/>
<path d="M519.71 61.61L527.51 61.61M520.85 58.85L526.37 64.37M523.61 57.71L523.61 65.51M526.37 58.85L520.85 64.37" stroke="#EDB120" stroke-width="0.85" fill="none"/>
<path d="M514.71 56.87L522.51 56.87M515.85 54.11L521.37 59.63M518.61 52.97L518.61 60.77M521.37 54.11L515.85 59.63" stroke="#EDB120" stroke-width="0.85" fill="none"/>
<path d="M510.17 52.57L517.97 52.57M511.31 49.81L516.83 55.33M514.07 48.67L514.07 56.47M516.83 49.81L511.31 55.33" stroke="#EDB120" stroke-width="0.85" fill="none"/>
<path d="M506.06 48.67L513.86 48.67M507.2 45.92L512.72 51.43M509.96 44.77L509.96 52.57M512.72 45.92L507.2 51.43" stroke="#EDB120" stroke-width="0.85" fill="none"/>
<path d="M502.34 45.15L510.14 45.15M503.48 42.39L509 47.91M506.24 41.25L506.24 49.05M509 42.39L503.48 47.91" stroke="#EDB120" stroke-width="0.85" fill="none"/>
<path d="M498.99 41.98L506.79 41.98M500.13 39.22L505.65 44.73M502.89 38.08L502.89 45.88M505.65 39.22L500.13 44.73" stroke="#EDB120" stroke-width="0.85" fill="none"/>
<path d="M495.99 39.14L503.79 39.14M497.14 36.38L502.65 41.9M499.89 35.24L499.89 43.04M502.65 36.38L497.14 41.9" stroke="#EDB120" stroke-width="0.85" fill="none"/>
<path d="M493.34 36.63L501.14 36.63M494.49 33.87L500 39.38M497.24 32.73L497.24 40.53M500 33.87L494.49 39.38" stroke="#EDB120" stroke-width="0.85" fill="none"/>
<path d="M491.03 34.44L498.83 34.44M492.18 31.68L497.69 37.2M494.93 30.54L494.93 38.34M497.69 31.68L492.18 37.2" stroke="#EDB120" stroke-width="0.85" fill="none"/>
<path d="M489.08 32.59L496.88 32.59M490.22 29.83L495.74 35.34M492.98 28.69L492.98 36.49M495.74 29.83L490.22 35.34" stroke="#EDB120" stroke-width="0.85" fill="none"/>
<path d="M487.49 31.09L495.29 31.09M488.64 28.33L494.15 33.84M491.39 27.19L491.39 34.99M494.15 28.33L488.64 33.84" stroke="#EDB120" stroke-width="0.85" fill="none"/>
<path d="M486.31 29.97L494.11 29.97M487.46 27.21L492.97 32.72M490.21 26.07L490.21 33.87M492.97 27.21L487.46 32.72" stroke="#EDB120" stroke-width="0.85" fill="none"/>
<path d="M485.58 29.27L493.38 29.27M486.72 26.51L492.24 32.03M489.48 25.37L489.48 33.17M492.24 26.51L486.72 32.03" stroke="#EDB120" stroke-width="0.85" fill="none"/>
<path d="M485.33 29.03L493.13 29.03M486.47 26.28L491.99 31.79M489.23 25.13L489.23 32.93M491.99 26.28L486.47 31.79" stroke="#EDB120" stroke-width="0.85" fill="none"/>
<polygon points="604.36,133.91 605.57,136.01 608,136.01 606.78,138.11 608,140.21 605.57,140.21 604.36,142.31 603.15,140.21 600.72,140.21 601.93,138.11 600.72,136.01 603.15,136.01" fill="none" stroke="#7E2F8E" stroke-width="0.85" stroke-linejoin="miter"/>
<polygon points="601.45,131.15 602.66,133.25 605.08,133.25 603.87,135.35 605.08,137.45 602.66,137.45 601.45,139.55 600.23,137.45 597.81,137.45 599.02,135.35 597.81,133.25 600.23,133.25" fill="none" stroke="#7E2F8E" stroke-width="0.85" stroke-linejoin="miter"/>
<polygon points="593.81,123.91 595.02,126.01 597.45,126.01 596.23,128.11 597.45,130.21 595.02,130.21 593.81,132.31 592.6,130.21 590.17,130.21 591.38,128.11 590.17,126.01 592.6,126.01" fill="none" stroke="#7E2F8E" stroke-width="0.85" stroke-linejoin="miter"/>
<polygon points="583.67,114.3 584.88,116.4 587.3,116.4 586.09,118.5 587.3,120.6 584.88,120.6 583.67,122.7 582.45,120.6 580.03,120.6 581.24,118.5 580.03,116.4 582.45,116.4" fill="none" stroke="#7E2F8E" stroke-width="0.85" stroke-linejoin="miter"/>
<polygon points="572.84,104.05 574.05,106.15 576.47,106.15 575.26,108.25 576.47,110.35 574.05,110.35 572.84,112.45 571.62,110.35 569.2,110.35 570.41,108.25 569.2,106.15 571.62,106.15" fill="none" stroke="#7E2F8E" stroke-width="0.85" stroke-linejoin="miter"/>
<polygon points="562.32,94.08 563.53,96.18 565.96,96.18 564.75,98.28 565.96,100.38 563.53,100.38 562.32,102.48 561.11,100.38 558.68,100.38 559.9,98.28 558.68,96.18 561.11,96.18" fill="none" stroke="#7E2F8E" stroke-width="0.85" stroke-linejoin="miter"/>
<polygon points="552.54,84.81 553.75,86.91 556.17,86.91 554.96,89.01 556.17,91.11 553.75,91.11 552.54,93.21 551.32,91.11 548.9,91.11 550.11,89.01 548.9,86.91 551.32,86.91" fill="none" stroke="#7E2F8E" stroke-width="0.85" stroke-linejoin="miter"/>
<polygon points="543.6,76.35 544.81,78.45 547.24,78.45 546.02,80.55 547.24,82.65 544.81,82.65 543.6,84.75 542.39,82.65 539.96,82.65 541.17,80.55 539.96,78.45 542.39,78.45" fill="none" stroke="#7E2F8E" stroke-width="0.85" stroke-linejoin="miter"/>
<polygon points="535.5,68.67 536.71,70.77 539.14,70.77 537.92,72.87 539.14,74.97 536.71,74.97 535.5,77.07 534.29,74.97 531.86,74.97 533.07,72.87 531.86,70.77 534.29,70.77" fill="none" stroke="#7E2F8E" stroke-width="0.85" stroke-linejoin="miter"/>
<polygon points="528.17,61.73 529.39,63.83 531.81,63.83 530.6,65.93 531.81,68.03 529.39,68.03 528.17,70.13 526.96,68.03 524.54,68.03 525.75,65.93 524.54,63.83 526.96,63.83" fill="none" stroke="#7E2F8E" stroke-width="0.85" stroke-linejoin="miter"/>
<polygon points="521.55,55.45 522.76,57.55 525.18,57.55 523.97,59.65 525.18,61.75 522.76,61.75 521.55,63.85 520.33,61.75 517.91,61.75 519.12,59.65 517.91,57.55 520.33,57.55" fill="none" stroke="#7E2F8E" stroke-width="0.85" stroke-linejoin="miter"/>
<polygon points="515.54,49.76 516.76,51.86 519.18,51.86 517.97,53.96 519.18,56.06 516.76,56.06 515.54,58.16 514.33,56.06 511.91,56.06 513.12,53.96 511.91,51.86 514.33,51.86" fill="none" stroke="#7E2F8E" stroke-width="0.85" stroke-linejoin="miter"/>
<polygon points="510.1,44.61 511.31,46.71 513.74,46.71 512.53,48.81 513.74,50.91 511.31,50.91 510.1,53.01 508.89,50.91 506.46,50.91 507.68,48.81 506.46,46.71 508.89,46.71" fill="none" stroke="#7E2F8E" stroke-width="0.85" stroke-linejoin="miter"/>
<polygon points="505.17,39.93 506.38,42.03 508.8,42.03 507.59,44.13 508.8,46.23 506.38,46.23 505.17,48.33 503.95,46.23 501.53,46.23 502.74,44.13 501.53,42.03 503.95,42.03" fill="none" stroke="#7E2F8E" stroke-width="0.85" stroke-linejoin="miter"/>
<polygon points="500.69,35.69 501.9,37.79 504.32,37.79 503.11,39.89 504.32,41.99 501.9,41.99 500.69,44.09 499.47,41.99 497.05,41.99 498.26,39.89 497.05,37.79 499.47,37.79" fill="none" stroke="#7E2F8E" stroke-width="0.85" stroke-linejoin="miter"/>
<polygon points="496.63,31.84 497.84,33.94 500.26,33.94 499.05,36.04 500.26,38.14 497.84,38.14 496.63,40.24 495.42,38.14 492.99,38.14 494.2,36.04 492.99,33.94 495.42,33.94" fill="none" stroke="#7E2F8E" stroke-width="0.85" stroke-linejoin="miter"/>
<polygon points="492.96,28.37 494.17,30.47 496.59,30.47 495.38,32.57 496.59,34.67 494.17,34.67 492.96,36.77 491.74,34.67 489.32,34.67 490.53,32.57 489.32,30.47 491.74,30.47" fill="none" stroke="#7E2F8E" stroke-width="0.85" stroke-linejoin="miter"/>
<polygon points="489.65,25.23 490.86,27.33 493.29,27.33 492.08,29.43 493.29,31.53 490.86,31.53 489.65,33.63 488.44,31.53 486.01,31.53 487.23,29.43 486.01,27.33 488.44,27.33" fill="none" stroke="#7E2F8E" stroke-width="0.85" stroke-linejoin="miter"/>
<polygon points="486.7,22.43 487.91,24.53 490.33,24.53 489.12,26.63 490.33,28.73 487.91,28.73 486.7,30.83 485.48,28.73 483.06,28.73 484.27,26.63 483.06,24.53 485.48,24.53" fill="none" stroke="#7E2F8E" stroke-width="0.85" stroke-linejoin="miter"/>
<polygon points="484.08,19.95 485.29,22.05 487.72,22.05 486.5,24.15 487.72,26.25 485.29,26.25 484.08,28.35 482.87,26.25 480.44,26.25 481.65,24.15 480.44,22.05 482.87,22.05" fill="none" stroke="#7E2F8E" stroke-width="0.85" stroke-linejoin="miter"/>
<polygon points="481.8,17.8 483.01,19.9 485.44,19.9 484.23,22 485.44,24.1 483.01,24.1 481.8,26.2 480.59,24.1 478.16,24.1 479.38,22 478.16,19.9 480.59,19.9" fill="none" stroke="#7E2F8E" stroke-width="0.85" stroke-linejoin="miter"/>
<polygon points="479.87,15.97 481.08,18.07 483.51,18.07 482.3,20.17 483.51,22.27 481.08,22.27 479.87,24.37 478.66,22.27 476.23,22.27 477.45,20.17 476.23,18.07 478.66,18.07" fill="none" stroke="#7E2F8E" stroke-width="0.85" stroke-linejoin="miter"/>
<polygon points="478.31,14.49 479.52,16.59 481.95,16.59 480.73,18.69 481.95,20.79 479.52,20.79 478.31,22.89 477.1,20.79 474.67,20.79 475.88,18.69 474.67,16.59 477.1,16.59" fill="none" stroke="#7E2F8E" stroke-width="0.85" stroke-linejoin="miter"/>
<polygon points="477.14,13.38 478.36,15.48 480.78,15.48 479.57,17.58 480.78,19.68 478.36,19.68 477.14,21.78 475.93,19.68 473.51,19.68 474.72,17.58 473.51,15.48 475.93,15.48" fill="none" stroke="#7E2F8E" stroke-width="0.85" stroke-linejoin="miter"/>
<polygon points="476.42,12.7 477.63,14.8 480.06,14.8 478.84,16.9 480.06,19 477.63,19 476.42,21.1 475.21,19 472.78,19 473.99,16.9 472.78,14.8 475.21,14.8" fill="none" stroke="#7E2F8E" stroke-width="0.85" stroke-linejoin="miter"/>
<polygon points="476.17,12.46 477.38,14.56 479.81,14.56 478.6,16.66 479.81,18.76 477.38,18.76 476.17,20.86 474.96,18.76 472.53,18.76 473.75,16.66 472.53,14.56 474.96,14.56" fill="none" stroke="#7E2F8E" stroke-width="0.85" stroke-linejoin="miter"/>
<path d="M470.3 11.1 L660.5 191.3" fill="none" stroke="#FF0000" stroke-width="0.9" stroke-linejoin="round"/>
<path d="M426.43 203.5V200.3M426.43 0.5V3.7M472.49 203.5V200.3M472.49 0.5V3.7M518.56 203.5V200.3M518.56 0.5V3.7M564.63 203.5V200.3M564.63 0.5V3.7M610.69 203.5V200.3M610.69 0.5V3.7M656.76 203.5V200.3M656.76 0.5V3.7M408 203.5H411.2M684.5 203.5H681.3M408 162.8H411.2M684.5 162.8H681.3M408 122.1H411.2M684.5 122.1H681.3M408 81.4H411.2M684.5 81.4H681.3M408 40.7H411.2M684.5 40.7H681.3" stroke="#262626" stroke-width="0.8" fill="none"/>
<rect x="408" y="0.5" width="276.5" height="203" fill="none" stroke="#262626" stroke-width="0.9"/>
<text x="426.43" y="220.7" text-anchor="middle" class="tk">1.4</text>
<text x="472.49" y="220.7" text-anchor="middle" class="tk">1.5</text>
<text x="518.56" y="220.7" text-anchor="middle" class="tk">1.6</text>
<text x="564.63" y="220.7" text-anchor="middle" class="tk">1.7</text>
<text x="610.69" y="220.7" text-anchor="middle" class="tk">1.8</text>
<text x="656.76" y="220.7" text-anchor="middle" class="tk">1.9</text>
<text x="402.4" y="209.1" text-anchor="end" class="tk">-20</text>
<text x="402.4" y="168.4" text-anchor="end" class="tk">-18</text>
<text x="402.4" y="127.7" text-anchor="end" class="tk">-16</text>
<text x="402.4" y="87" text-anchor="end" class="tk">-14</text>
<text x="402.4" y="46.3" text-anchor="end" class="tk">-12</text>
<text x="653.2" y="239.6" class="tk">&#215;<tspan x="662.3">10</tspan><tspan x="675.3" y="234.6" font-size="9.6px">-3</tspan></text>
<path d="M44 486 L44.91 486 L45.81 486 L46.72 485.99 L47.62 485.98 L48.53 485.97 L49.44 485.96 L50.34 485.95 L51.25 485.93 L52.15 485.91 L53.06 485.89 L53.97 485.86 L54.87 485.84 L55.78 485.81 L56.68 485.78 L57.59 485.75 L58.49 485.71 L59.4 485.67 L60.31 485.63 L61.21 485.59 L62.12 485.55 L63.02 485.5 L63.93 485.45 L64.84 485.4 L65.74 485.34 L66.65 485.29 L67.55 485.23 L68.46 485.17 L69.37 485.1 L70.27 485.04 L71.18 484.97 L72.08 484.9 L72.99 484.82 L73.9 484.75 L74.8 484.67 L75.71 484.59 L76.61 484.5 L77.52 484.42 L78.43 484.33 L79.33 484.24 L80.24 484.15 L81.14 484.05 L82.05 483.95 L82.95 483.85 L83.86 483.74 L84.77 483.64 L85.67 483.53 L86.58 483.42 L87.48 483.3 L88.39 483.19 L89.3 483.07 L90.2 482.94 L91.11 482.82 L92.01 482.69 L92.92 482.56 L93.83 482.43 L94.73 482.29 L95.64 482.15 L96.54 482.01 L97.45 481.87 L98.36 481.72 L99.26 481.57 L100.17 481.42 L101.07 481.27 L101.98 481.11 L102.89 480.95 L103.79 480.78 L104.7 480.62 L105.6 480.45 L106.51 480.28 L107.41 480.1 L108.32 479.93 L109.23 479.74 L110.13 479.56 L111.04 479.38 L111.94 479.19 L112.85 478.99 L113.76 478.8 L114.66 478.6 L115.57 478.4 L116.47 478.2 L117.38 477.99 L118.29 477.78 L119.19 477.57 L120.1 477.35 L121 477.13 L121.91 476.91 L122.82 476.68 L123.72 476.45 L124.63 476.22 L125.53 475.99 L126.44 475.75 L127.35 475.51 L128.25 475.27 L129.16 475.02 L130.06 474.77 L130.97 474.51 L131.87 474.26 L132.78 474 L133.69 473.73 L134.59 473.47 L135.5 473.2 L136.4 472.92 L137.31 472.65 L138.22 472.37 L139.12 472.08 L140.03 471.8 L140.93 471.51 L141.84 471.21 L142.75 470.92 L143.65 470.62 L144.56 470.31 L145.46 470 L146.37 469.69 L147.28 469.38 L148.18 469.06 L149.09 468.74 L149.99 468.41 L150.9 468.09 L151.81 467.75 L152.71 467.42 L153.62 467.08 L154.52 466.73 L155.43 466.39 L156.33 466.04 L157.24 465.68 L158.15 465.32 L159.05 464.96 L159.96 464.6 L160.86 464.23 L161.77 463.85 L162.68 463.48 L163.58 463.1 L164.49 462.71 L165.39 462.32 L166.3 461.93 L167.21 461.53 L168.11 461.13 L169.02 460.73 L169.92 460.32 L170.83 459.91 L171.74 459.49 L172.64 459.07 L173.55 458.64 L174.45 458.21 L175.36 457.78 L176.27 457.34 L177.17 456.9 L178.08 456.45 L178.98 456 L179.89 455.55 L180.79 455.09 L181.7 454.62 L182.61 454.15 L183.51 453.68 L184.42 453.21 L185.32 452.72 L186.23 452.24 L187.14 451.75 L188.04 451.25 L188.95 450.75 L189.85 450.25 L190.76 449.74 L191.67 449.22 L192.57 448.7 L193.48 448.18 L194.38 447.65 L195.29 447.12 L196.2 446.58 L197.1 446.04 L198.01 445.49 L198.91 444.94 L199.82 444.38 L200.73 443.82 L201.63 443.25 L202.54 442.67 L203.44 442.1 L204.35 441.51 L205.25 440.92 L206.16 440.33 L207.07 439.73 L207.97 439.12 L208.88 438.51 L209.78 437.9 L210.69 437.28 L211.6 436.65 L212.5 436.01 L213.41 435.38 L214.31 434.73 L215.22 434.08 L216.13 433.43 L217.03 432.76 L217.94 432.1 L218.84 431.42 L219.75 430.74 L220.66 430.06 L221.56 429.37 L222.47 428.67 L223.37 427.96 L224.28 427.25 L225.19 426.54 L226.09 425.81 L227 425.08 L227.9 424.35 L228.81 423.6 L229.71 422.85 L230.62 422.1 L231.53 421.33 L232.43 420.56 L233.34 419.79 L234.24 419 L235.15 418.21 L236.06 417.41 L236.96 416.61 L237.87 415.79 L238.77 414.97 L239.68 414.14 L240.59 413.31 L241.49 412.47 L242.4 411.61 L243.3 410.76 L244.21 409.89 L245.12 409.01 L246.02 408.13 L246.93 407.24 L247.83 406.34 L248.74 405.43 L249.65 404.52 L250.55 403.59 L251.46 402.66 L252.36 401.71 L253.27 400.76 L254.17 399.8 L255.08 398.83 L255.99 397.85 L256.89 396.86 L257.8 395.86 L258.7 394.85 L259.61 393.84 L260.52 392.81 L261.42 391.77 L262.33 390.72 L263.23 389.66 L264.14 388.59 L265.05 387.51 L265.95 386.42 L266.86 385.31 L267.76 384.2 L268.67 383.07 L269.58 381.93 L270.48 380.78 L271.39 379.62 L272.29 378.44 L273.2 377.26 L274.11 376.06 L275.01 374.84 L275.92 373.61 L276.82 372.37 L277.73 371.12 L278.63 369.85 L279.54 368.56 L280.45 367.26 L281.35 365.95 L282.26 364.62 L283.16 363.27 L284.07 361.91 L284.98 360.53 L285.88 359.13 L286.79 357.72 L287.69 356.28 L288.6 354.83 L289.51 353.36 L290.41 351.87 L291.32 350.36 L292.22 348.83 L293.13 347.27 L294.04 345.69 L294.94 344.1 L295.85 342.47 L296.75 340.82 L297.66 339.15 L298.57 337.45 L299.47 335.72 L300.38 333.96 L301.28 332.17 L302.19 330.35 L303.09 328.49 L304 326.6 L304.91 324.67 L305.81 322.71 L306.72 320.7 L307.62 318.64 L308.53 316.54 L309.44 314.39 L310.34 312.18 L311.25 309.91 L312.15 307.57 L313.06 305.16 L313.97 302.66 L314.87 300.07" fill="none" stroke="#FF0000" stroke-width="0.9" stroke-linejoin="round"/>
<circle cx="57.82" cy="485.74" r="3.6" fill="none" stroke="#0072BD" stroke-width="0.85"/>
<circle cx="58.8" cy="485.7" r="3.6" fill="none" stroke="#0072BD" stroke-width="0.85"/>
<circle cx="61.73" cy="485.57" r="3.6" fill="none" stroke="#0072BD" stroke-width="0.85"/>
<circle cx="66.55" cy="485.29" r="3.6" fill="none" stroke="#0072BD" stroke-width="0.85"/>
<circle cx="73.2" cy="484.81" r="3.6" fill="none" stroke="#0072BD" stroke-width="0.85"/>
<circle cx="81.57" cy="484" r="3.6" fill="none" stroke="#0072BD" stroke-width="0.85"/>
<circle cx="91.53" cy="482.76" r="3.6" fill="none" stroke="#0072BD" stroke-width="0.85"/>
<circle cx="102.92" cy="480.94" r="3.6" fill="none" stroke="#0072BD" stroke-width="0.85"/>
<circle cx="115.55" cy="478.4" r="3.6" fill="none" stroke="#0072BD" stroke-width="0.85"/>
<circle cx="129.24" cy="475" r="3.6" fill="none" stroke="#0072BD" stroke-width="0.85"/>
<circle cx="143.76" cy="470.58" r="3.6" fill="none" stroke="#0072BD" stroke-width="0.85"/>
<circle cx="158.89" cy="465.03" r="3.6" fill="none" stroke="#0072BD" stroke-width="0.85"/>
<circle cx="174.39" cy="458.24" r="3.6" fill="none" stroke="#0072BD" stroke-width="0.85"/>
<circle cx="190.01" cy="450.16" r="3.6" fill="none" stroke="#0072BD" stroke-width="0.85"/>
<circle cx="205.51" cy="440.76" r="3.6" fill="none" stroke="#0072BD" stroke-width="0.85"/>
<circle cx="220.64" cy="430.07" r="3.6" fill="none" stroke="#0072BD" stroke-width="0.85"/>
<circle cx="235.16" cy="418.2" r="3.6" fill="none" stroke="#0072BD" stroke-width="0.85"/>
<circle cx="248.85" cy="405.32" r="3.6" fill="none" stroke="#0072BD" stroke-width="0.85"/>
<circle cx="261.48" cy="391.7" r="3.6" fill="none" stroke="#0072BD" stroke-width="0.85"/>
<circle cx="272.87" cy="377.69" r="3.6" fill="none" stroke="#0072BD" stroke-width="0.85"/>
<circle cx="282.83" cy="363.78" r="3.6" fill="none" stroke="#0072BD" stroke-width="0.85"/>
<circle cx="291.2" cy="350.56" r="3.6" fill="none" stroke="#0072BD" stroke-width="0.85"/>
<circle cx="297.85" cy="338.8" r="3.6" fill="none" stroke="#0072BD" stroke-width="0.85"/>
<circle cx="302.67" cy="329.36" r="3.6" fill="none" stroke="#0072BD" stroke-width="0.85"/>
<circle cx="305.6" cy="323.17" r="3.6" fill="none" stroke="#0072BD" stroke-width="0.85"/>
<circle cx="306.58" cy="321.01" r="3.6" fill="none" stroke="#0072BD" stroke-width="0.85"/>
<path d="M44 486V482.8M44 282.25V285.45M99.28 486V482.8M99.28 282.25V285.45M154.56 486V482.8M154.56 282.25V285.45M209.84 486V482.8M209.84 282.25V285.45M265.12 486V482.8M265.12 282.25V285.45M320.4 486V482.8M320.4 282.25V285.45M44 486H47.2M320.5 486H317.3M44 452.04H47.2M320.5 452.04H317.3M44 418.08H47.2M320.5 418.08H317.3M44 384.12H47.2M320.5 384.12H317.3M44 350.17H47.2M320.5 350.17H317.3M44 316.21H47.2M320.5 316.21H317.3M44 282.25H47.2M320.5 282.25H317.3" stroke="#262626" stroke-width="0.8" fill="none"/>
<rect x="44" y="282.25" width="276.5" height="203.75" fill="none" stroke="#262626" stroke-width="0.9"/>
<text x="44" y="503.2" text-anchor="middle" class="tk">0</text>
<text x="99.28" y="503.2" text-anchor="middle" class="tk">0.2</text>
<text x="154.56" y="503.2" text-anchor="middle" class="tk">0.4</text>
<text x="209.84" y="503.2" text-anchor="middle" class="tk">0.6</text>
<text x="265.12" y="503.2" text-anchor="middle" class="tk">0.8</text>
<text x="320.4" y="503.2" text-anchor="middle" class="tk">1</text>
<text x="38.4" y="491.6" text-anchor="end" class="tk">0</text>
<text x="38.4" y="457.64" text-anchor="end" class="tk">2</text>
<text x="38.4" y="423.68" text-anchor="end" class="tk">4</text>
<text x="38.4" y="389.73" text-anchor="end" class="tk">6</text>
<text x="38.4" y="355.77" text-anchor="end" class="tk">8</text>
<text x="38.4" y="321.81" text-anchor="end" class="tk">10</text>
<text x="38.4" y="287.85" text-anchor="end" class="tk">12</text>
<path d="M419.06 244.23 L419.28 249.09 L419.5 253.76 L419.72 258.26 L419.94 262.59 L420.17 266.76 L420.39 270.78 L420.61 274.67 L420.83 278.41 L421.06 282.03 L421.28 285.53 L421.5 288.91 L421.72 292.18 L421.95 295.35 L422.17 298.42 L422.39 301.4 L422.61 304.28 L422.83 307.08 L423.06 309.79 L423.28 312.43 L423.5 314.99 L423.72 317.48 L423.95 319.9 L424.17 322.25 L424.39 324.54 L424.61 326.77 L424.83 328.93 L425.06 331.05 L425.28 333.1 L425.5 335.11 L425.72 337.07 L425.95 338.97 L426.17 340.83 L426.39 342.65 L426.61 344.42 L426.83 346.15 L427.06 347.84 L427.28 349.49 L427.5 351.1 L427.72 352.68 L427.95 354.22 L428.17 355.73 L428.39 357.21 L428.61 358.65 L428.83 360.06 L429.06 361.44 L429.28 362.8 L429.5 364.12 L429.72 365.42 L429.95 366.69 L430.17 367.94 L430.39 369.16 L430.61 370.36 L430.83 371.54 L431.06 372.69 L431.28 373.82 L431.5 374.93 L431.72 376.02 L431.95 377.08 L432.17 378.13 L432.39 379.16 L432.61 380.17 L432.83 381.16 L433.06 382.14 L433.28 383.1 L433.5 384.04 L433.72 384.96 L433.95 385.87 L434.17 386.77 L434.39 387.65 L434.61 388.51 L434.83 389.36 L435.06 390.19 L435.28 391.02 L435.5 391.83 L435.72 392.62 L435.95 393.4 L436.17 394.18 L436.39 394.93 L436.61 395.68 L436.83 396.42 L437.06 397.14 L437.28 397.85 L437.5 398.56 L437.72 399.25 L437.95 399.93 L438.17 400.6 L438.39 401.26 L438.61 401.92 L438.83 402.56 L439.06 403.19 L439.28 403.82 L439.5 404.43 L439.72 405.04 L439.95 405.64 L440.17 406.23 L440.39 406.81 L440.61 407.39 L440.83 407.96 L441.06 408.52 L441.28 409.07 L441.5 409.61 L441.72 410.15 L441.95 410.68 L442.17 411.2 L442.39 411.72 L442.61 412.23 L442.83 412.73 L443.06 413.23 L443.28 413.72 L443.5 414.21 L443.72 414.68 L443.95 415.16 L444.17 415.62 L444.39 416.09 L444.61 416.54 L444.83 416.99 L445.06 417.44 L445.28 417.88 L445.5 418.31 L445.72 418.74 L445.95 419.16 L446.17 419.58 L446.39 420 L446.61 420.41 L446.83 420.81 L447.06 421.21 L447.28 421.61 L447.5 422 L447.72 422.39 L447.95 422.77 L448.17 423.15 L448.39 423.52 L448.61 423.89 L448.83 424.26 L449.06 424.62 L449.28 424.98 L449.5 425.34 L449.72 425.69 L449.95 426.03 L450.17 426.38 L450.39 426.72 L450.61 427.05 L450.84 427.39 L451.06 427.72 L451.28 428.04 L451.5 428.37 L451.72 428.69 L451.95 429 L452.17 429.31 L452.39 429.62 L452.61 429.93 L452.84 430.24 L453.06 430.54 L453.28 430.83 L453.5 431.13 L453.72 431.42 L453.95 431.71 L454.17 432 L454.39 432.28 L454.61 432.56 L454.84 432.84 L455.06 433.12 L455.28 433.39 L455.5 433.66 L455.72 433.93 L455.95 434.19 L456.17 434.46 L456.39 434.72 L456.61 434.98 L456.84 435.23 L457.06 435.49 L457.28 435.74 L457.5 435.99 L457.72 436.24 L457.95 436.48 L458.17 436.72 L458.39 436.96 L458.61 437.2 L458.84 437.44 L459.06 437.67 L459.28 437.91 L459.5 438.14 L459.72 438.36 L459.95 438.59 L460.17 438.82 L460.39 439.04 L460.61 439.26 L460.84 439.48 L461.06 439.69 L461.28 439.91 L461.5 440.12 L461.72 440.33 L461.95 440.54 L462.17 440.75 L462.39 440.96 L462.61 441.16 L462.84 441.37 L463.06 441.57 L463.28 441.77 L463.28 441.77 L464.02 442.42 L464.76 443.06 L465.5 443.68 L466.23 444.28 L466.97 444.87 L467.71 445.45 L468.45 446.01 L469.19 446.56 L469.93 447.09 L470.67 447.61 L471.4 448.12 L472.14 448.62 L472.88 449.11 L473.62 449.59 L474.36 450.05 L475.1 450.51 L475.84 450.95 L476.57 451.39 L477.31 451.81 L478.05 452.23 L478.79 452.64 L479.53 453.04 L480.27 453.44 L481.01 453.82 L481.75 454.2 L482.48 454.57 L483.22 454.93 L483.96 455.29 L484.7 455.63 L485.44 455.98 L486.18 456.31 L486.92 456.64 L487.65 456.97 L488.39 457.28 L489.13 457.6 L489.87 457.9 L490.61 458.2 L491.35 458.5 L492.09 458.79 L492.82 459.08 L493.56 459.36 L494.3 459.63 L495.04 459.9 L495.78 460.17 L496.52 460.43 L497.26 460.69 L497.99 460.95 L498.73 461.2 L499.47 461.44 L500.21 461.68 L500.95 461.92 L501.69 462.16 L502.43 462.39 L503.16 462.62 L503.9 462.84 L504.64 463.06 L505.38 463.28 L506.12 463.49 L506.86 463.7 L507.6 463.91 L508.34 464.12 L509.07 464.32 L509.81 464.52 L510.55 464.71 L511.29 464.91 L512.03 465.1 L512.77 465.29 L513.51 465.47 L514.24 465.66 L514.98 465.84 L515.72 466.01 L516.46 466.19 L517.2 466.36 L517.94 466.54 L518.68 466.71 L519.41 466.87 L520.15 467.04 L520.89 467.2 L521.63 467.36 L522.37 467.52 L523.11 467.68 L523.85 467.83 L524.58 467.98 L525.32 468.13 L526.06 468.28 L526.8 468.43 L527.54 468.58 L528.28 468.72 L529.02 468.86 L529.75 469 L530.49 469.14 L531.23 469.28 L531.97 469.42 L532.71 469.55 L533.45 469.68 L534.19 469.81 L534.92 469.94 L535.66 470.07 L536.4 470.2 L537.14 470.33 L537.88 470.45 L538.62 470.57 L539.36 470.69 L540.1 470.81 L540.83 470.93 L541.57 471.05 L542.31 471.17 L543.05 471.28 L543.79 471.4 L544.53 471.51 L545.27 471.62 L546 471.73 L546.74 471.84 L547.48 471.95 L548.22 472.06 L548.96 472.16 L549.7 472.27 L550.44 472.37 L551.17 472.48 L551.91 472.58 L552.65 472.68 L553.39 472.78 L554.13 472.88 L554.87 472.98 L555.61 473.08 L556.34 473.17 L557.08 473.27 L557.82 473.36 L558.56 473.46 L559.3 473.55 L560.04 473.64 L560.78 473.73 L561.51 473.82 L562.25 473.91 L562.99 474 L563.73 474.09 L564.47 474.18 L565.21 474.27 L565.95 474.35 L566.69 474.44 L567.42 474.52 L568.16 474.61 L568.9 474.69 L569.64 474.77 L570.38 474.85 L571.12 474.93 L571.86 475.02 L572.59 475.1 L573.33 475.17 L574.07 475.25 L574.81 475.33 L575.55 475.41 L576.29 475.49 L577.03 475.56 L577.76 475.64 L578.5 475.71 L579.24 475.79 L579.98 475.86 L580.72 475.93 L581.46 476.01 L582.2 476.08 L582.93 476.15 L583.67 476.22 L584.41 476.29 L585.15 476.36 L585.89 476.43 L586.63 476.5 L587.37 476.57 L588.1 476.64 L588.84 476.71 L589.58 476.78 L590.32 476.84 L591.06 476.91 L591.8 476.97 L592.54 477.04 L593.27 477.11 L594.01 477.17 L594.75 477.23 L595.49 477.3 L596.23 477.36 L596.97 477.42 L597.71 477.49 L598.45 477.55 L599.18 477.61 L599.92 477.67 L600.66 477.73 L601.4 477.8 L602.14 477.86 L602.88 477.92 L603.62 477.98 L604.35 478.04 L605.09 478.09 L605.83 478.15 L606.57 478.21 L607.31 478.27 L608.05 478.33 L608.79 478.39 L609.52 478.44 L610.26 478.5 L611 478.56 L611.74 478.61 L612.48 478.67 L613.22 478.72 L613.96 478.78 L614.69 478.84 L615.43 478.89 L616.17 478.95 L616.91 479 L617.65 479.05 L618.39 479.11 L619.13 479.16 L619.86 479.21 L620.6 479.27 L621.34 479.32 L622.08 479.37 L622.82 479.43 L623.56 479.48 L624.3 479.53 L625.04 479.58 L625.77 479.64 L626.51 479.69 L627.25 479.74 L627.99 479.79 L628.73 479.84 L629.47 479.89 L630.21 479.94 L630.94 479.99 L631.68 480.04 L632.42 480.09 L633.16 480.14 L633.9 480.19 L634.64 480.24 L635.38 480.29 L636.11 480.34 L636.85 480.39 L637.59 480.44 L638.33 480.49 L639.07 480.54 L639.81 480.59 L640.55 480.64 L641.28 480.69 L642.02 480.74 L642.76 480.79 L643.5 480.83 L644.24 480.88 L644.98 480.93 L645.72 480.98 L646.45 481.03 L647.19 481.08 L647.93 481.13 L648.67 481.18 L649.41 481.22 L650.15 481.27 L650.89 481.32 L651.62 481.37 L652.36 481.42 L653.1 481.47 L653.84 481.52 L654.58 481.57 L655.32 481.62 L656.06 481.67 L656.8 481.72 L657.53 481.77 L658.27 481.82 L659.01 481.87 L659.75 481.92 L660.49 481.97 L661.23 482.02 L661.97 482.07 L662.7 482.12 L663.44 482.17 L664.18 482.23 L664.92 482.28 L665.66 482.33 L666.4 482.39 L667.14 482.44 L667.87 482.5 L668.61 482.55 L669.35 482.61 L670.09 482.67 L670.83 482.73 L671.57 482.78 L672.31 482.85 L673.04 482.91 L673.78 482.97 L674.52 483.04 L675.26 483.1 L676 483.17 L676.74 483.25 L677.48 483.32 L678.21 483.4 L678.95 483.49 L679.69 483.58 L680.43 483.67 L681.17 483.78 L681.91 483.9 L682.65 484.05 L683.38 484.24 L684.12 484.57 L684.4 486" fill="none" stroke="#FF0000" stroke-width="0.9" stroke-linejoin="round" clip-path="url(#c4)"/>
<circle cx="421.82" cy="293.58" r="3.6" fill="none" stroke="#0072BD" stroke-width="0.85"/>
<circle cx="422.8" cy="306.67" r="3.6" fill="none" stroke="#0072BD" stroke-width="0.85"/>
<circle cx="425.73" cy="337.11" r="3.6" fill="none" stroke="#0072BD" stroke-width="0.85"/>
<circle cx="430.55" cy="370.05" r="3.6" fill="none" stroke="#0072BD" stroke-width="0.85"/>
<circle cx="437.2" cy="397.62" r="3.6" fill="none" stroke="#0072BD" stroke-width="0.85"/>
<circle cx="445.57" cy="418.45" r="3.6" fill="none" stroke="#0072BD" stroke-width="0.85"/>
<circle cx="455.53" cy="433.7" r="3.6" fill="none" stroke="#0072BD" stroke-width="0.85"/>
<circle cx="466.92" cy="444.83" r="3.6" fill="none" stroke="#0072BD" stroke-width="0.85"/>
<circle cx="479.55" cy="453.06" r="3.6" fill="none" stroke="#0072BD" stroke-width="0.85"/>
<circle cx="493.24" cy="459.23" r="3.6" fill="none" stroke="#0072BD" stroke-width="0.85"/>
<circle cx="507.76" cy="463.96" r="3.6" fill="none" stroke="#0072BD" stroke-width="0.85"/>
<circle cx="522.89" cy="467.63" r="3.6" fill="none" stroke="#0072BD" stroke-width="0.85"/>
<circle cx="538.39" cy="470.53" r="3.6" fill="none" stroke="#0072BD" stroke-width="0.85"/>
<circle cx="554.01" cy="472.86" r="3.6" fill="none" stroke="#0072BD" stroke-width="0.85"/>
<circle cx="569.51" cy="474.76" r="3.6" fill="none" stroke="#0072BD" stroke-width="0.85"/>
<circle cx="584.64" cy="476.31" r="3.6" fill="none" stroke="#0072BD" stroke-width="0.85"/>
<circle cx="599.16" cy="477.61" r="3.6" fill="none" stroke="#0072BD" stroke-width="0.85"/>
<circle cx="612.85" cy="478.7" r="3.6" fill="none" stroke="#0072BD" stroke-width="0.85"/>
<circle cx="625.48" cy="479.61" r="3.6" fill="none" stroke="#0072BD" stroke-width="0.85"/>
<circle cx="636.87" cy="480.39" r="3.6" fill="none" stroke="#0072BD" stroke-width="0.85"/>
<circle cx="646.83" cy="481.05" r="3.6" fill="none" stroke="#0072BD" stroke-width="0.85"/>
<circle cx="655.2" cy="481.61" r="3.6" fill="none" stroke="#0072BD" stroke-width="0.85"/>
<circle cx="661.85" cy="482.06" r="3.6" fill="none" stroke="#0072BD" stroke-width="0.85"/>
<circle cx="666.67" cy="482.41" r="3.6" fill="none" stroke="#0072BD" stroke-width="0.85"/>
<circle cx="669.6" cy="482.63" r="3.6" fill="none" stroke="#0072BD" stroke-width="0.85"/>
<circle cx="670.58" cy="482.71" r="3.6" fill="none" stroke="#0072BD" stroke-width="0.85"/>
<path d="M408 486V482.8M408 282.25V285.45M463.28 486V482.8M463.28 282.25V285.45M518.56 486V482.8M518.56 282.25V285.45M573.84 486V482.8M573.84 282.25V285.45M629.12 486V482.8M629.12 282.25V285.45M684.4 486V482.8M684.4 282.25V285.45M408 486H411.2M684.5 486H681.3M408 426.07H411.2M684.5 426.07H681.3M408 366.15H411.2M684.5 366.15H681.3M408 306.22H411.2M684.5 306.22H681.3" stroke="#262626" stroke-width="0.8" fill="none"/>
<rect x="408" y="282.25" width="276.5" height="203.75" fill="none" stroke="#262626" stroke-width="0.9"/>
<text x="408" y="503.2" text-anchor="middle" class="tk">0</text>
<text x="463.28" y="503.2" text-anchor="middle" class="tk">0.2</text>
<text x="518.56" y="503.2" text-anchor="middle" class="tk">0.4</text>
<text x="573.84" y="503.2" text-anchor="middle" class="tk">0.6</text>
<text x="629.12" y="503.2" text-anchor="middle" class="tk">0.8</text>
<text x="684.4" y="503.2" text-anchor="middle" class="tk">1</text>
<text x="402.4" y="491.6" text-anchor="end" class="tk">0</text>
<text x="402.4" y="431.67" text-anchor="end" class="tk">0.5</text>
<text x="402.4" y="371.75" text-anchor="end" class="tk">1</text>
<text x="402.4" y="311.82" text-anchor="end" class="tk">1.5</text>
<rect x="53.5" y="10.6" width="102" height="66.7" fill="#fff" stroke="#262626" stroke-width="0.9"/>
<circle cx="74.9" cy="19.9" r="3.6" fill="none" stroke="#0072BD" stroke-width="0.85"/>
<text class="s" stroke="#000" stroke-width="0.12"><tspan x="95.00" y="23.20" font-size="12.85px">2</tspan><tspan x="103.78" y="23.20" font-style="italic" font-size="12.48px" textLength="10.82" lengthAdjust="spacingAndGlyphs">K</tspan><tspan x="115.03" y="25.41" font-size="16.22px" textLength="5.86" lengthAdjust="spacingAndGlyphs">/</tspan><tspan x="121.21" y="23.20" font-style="italic" font-size="12.48px" textLength="11.41" lengthAdjust="spacingAndGlyphs">m</tspan><tspan x="132.62" y="23.20" font-style="italic" font-size="12.48px" textLength="4.48" lengthAdjust="spacingAndGlyphs">i</tspan><tspan x="137.11" y="23.20" font-style="italic" font-size="12.48px" textLength="7.80" lengthAdjust="spacingAndGlyphs">n</tspan></text>
<polygon points="74.9,31.6 75.87,34.57 78.99,34.57 76.46,36.41 77.43,39.38 74.9,37.54 72.37,39.38 73.34,36.41 70.81,34.57 73.93,34.57" fill="none" stroke="#D95319" stroke-width="0.85" stroke-linejoin="miter"/>
<text class="s" stroke="#000" stroke-width="0.12"><tspan x="95.00" y="38.80" font-size="12.85px">5</tspan><tspan x="103.78" y="38.80" font-style="italic" font-size="12.48px" textLength="10.82" lengthAdjust="spacingAndGlyphs">K</tspan><tspan x="115.03" y="41.01" font-size="16.22px" textLength="5.86" lengthAdjust="spacingAndGlyphs">/</tspan><tspan x="121.21" y="38.80" font-style="italic" font-size="12.48px" textLength="11.41" lengthAdjust="spacingAndGlyphs">m</tspan><tspan x="132.62" y="38.80" font-style="italic" font-size="12.48px" textLength="4.48" lengthAdjust="spacingAndGlyphs">i</tspan><tspan x="137.11" y="38.80" font-style="italic" font-size="12.48px" textLength="7.80" lengthAdjust="spacingAndGlyphs">n</tspan></text>
<path d="M71 51.9L78.8 51.9M72.14 49.14L77.66 54.66M74.9 48L74.9 55.8M77.66 49.14L72.14 54.66" stroke="#EDB120" stroke-width="0.85" fill="none"/>
<text class="s" stroke="#000" stroke-width="0.12"><tspan x="95.00" y="55.20" font-size="12.85px">1</tspan><tspan x="101.50" y="55.20" font-size="12.85px">0</tspan><tspan x="110.28" y="55.20" font-style="italic" font-size="12.48px" textLength="10.82" lengthAdjust="spacingAndGlyphs">K</tspan><tspan x="121.53" y="57.41" font-size="16.22px" textLength="5.86" lengthAdjust="spacingAndGlyphs">/</tspan><tspan x="127.71" y="55.20" font-style="italic" font-size="12.48px" textLength="11.41" lengthAdjust="spacingAndGlyphs">m</tspan><tspan x="139.12" y="55.20" font-style="italic" font-size="12.48px" textLength="4.48" lengthAdjust="spacingAndGlyphs">i</tspan><tspan x="143.61" y="55.20" font-style="italic" font-size="12.48px" textLength="7.80" lengthAdjust="spacingAndGlyphs">n</tspan></text>
<polygon points="74.9,63.4 76.11,65.5 78.54,65.5 77.32,67.6 78.54,69.7 76.11,69.7 74.9,71.8 73.69,69.7 71.26,69.7 72.48,67.6 71.26,65.5 73.69,65.5" fill="none" stroke="#7E2F8E" stroke-width="0.85" stroke-linejoin="miter"/>
<text class="s" stroke="#000" stroke-width="0.12"><tspan x="95.00" y="70.90" font-size="12.85px">2</tspan><tspan x="101.50" y="70.90" font-size="12.85px">0</tspan><tspan x="110.28" y="70.90" font-style="italic" font-size="12.48px" textLength="10.82" lengthAdjust="spacingAndGlyphs">K</tspan><tspan x="121.53" y="73.11" font-size="16.22px" textLength="5.86" lengthAdjust="spacingAndGlyphs">/</tspan><tspan x="127.71" y="70.90" font-style="italic" font-size="12.48px" textLength="11.41" lengthAdjust="spacingAndGlyphs">m</tspan><tspan x="139.12" y="70.90" font-style="italic" font-size="12.48px" textLength="4.48" lengthAdjust="spacingAndGlyphs">i</tspan><tspan x="143.61" y="70.90" font-style="italic" font-size="12.48px" textLength="7.80" lengthAdjust="spacingAndGlyphs">n</tspan></text>
<rect x="417.5" y="111" width="146.9" height="82.6" fill="#fff" stroke="#262626" stroke-width="0.9"/>
<circle cx="439" cy="119.9" r="3.6" fill="none" stroke="#0072BD" stroke-width="0.85"/>
<text class="s" stroke="#000" stroke-width="0.12"><tspan x="458.90" y="123.20" font-size="12.85px">2</tspan><tspan x="467.68" y="123.20" font-style="italic" font-size="12.48px" textLength="10.82" lengthAdjust="spacingAndGlyphs">K</tspan><tspan x="478.93" y="125.41" font-size="16.22px" textLength="5.86" lengthAdjust="spacingAndGlyphs">/</tspan><tspan x="485.11" y="123.20" font-style="italic" font-size="12.48px" textLength="11.41" lengthAdjust="spacingAndGlyphs">m</tspan><tspan x="496.52" y="123.20" font-style="italic" font-size="12.48px" textLength="4.48" lengthAdjust="spacingAndGlyphs">i</tspan><tspan x="501.01" y="123.20" font-style="italic" font-size="12.48px" textLength="7.80" lengthAdjust="spacingAndGlyphs">n</tspan></text>
<polygon points="439,132.4 439.97,135.37 443.09,135.37 440.56,137.21 441.53,140.18 439,138.34 436.47,140.18 437.44,137.21 434.91,135.37 438.03,135.37" fill="none" stroke="#D95319" stroke-width="0.85" stroke-linejoin="miter"/>
<text class="s" stroke="#000" stroke-width="0.12"><tspan x="458.90" y="139.60" font-size="12.85px">5</tspan><tspan x="467.68" y="139.60" font-style="italic" font-size="12.48px" textLength="10.82" lengthAdjust="spacingAndGlyphs">K</tspan><tspan x="478.93" y="141.81" font-size="16.22px" textLength="5.86" lengthAdjust="spacingAndGlyphs">/</tspan><tspan x="485.11" y="139.60" font-style="italic" font-size="12.48px" textLength="11.41" lengthAdjust="spacingAndGlyphs">m</tspan><tspan x="496.52" y="139.60" font-style="italic" font-size="12.48px" textLength="4.48" lengthAdjust="spacingAndGlyphs">i</tspan><tspan x="501.01" y="139.60" font-style="italic" font-size="12.48px" textLength="7.80" lengthAdjust="spacingAndGlyphs">n</tspan></text>
<path d="M435.1 152.4L442.9 152.4M436.24 149.64L441.76 155.16M439 148.5L439 156.3M441.76 149.64L436.24 155.16" stroke="#EDB120" stroke-width="0.85" fill="none"/>
<text class="s" stroke="#000" stroke-width="0.12"><tspan x="458.90" y="155.70" font-size="12.85px">1</tspan><tspan x="465.40" y="155.70" font-size="12.85px">0</tspan><tspan x="474.18" y="155.70" font-style="italic" font-size="12.48px" textLength="10.82" lengthAdjust="spacingAndGlyphs">K</tspan><tspan x="485.43" y="157.91" font-size="16.22px" textLength="5.86" lengthAdjust="spacingAndGlyphs">/</tspan><tspan x="491.61" y="155.70" font-style="italic" font-size="12.48px" textLength="11.41" lengthAdjust="spacingAndGlyphs">m</tspan><tspan x="503.02" y="155.70" font-style="italic" font-size="12.48px" textLength="4.48" lengthAdjust="spacingAndGlyphs">i</tspan><tspan x="507.51" y="155.70" font-style="italic" font-size="12.48px" textLength="7.80" lengthAdjust="spacingAndGlyphs">n</tspan></text>
<polygon points="439,164.3 440.21,166.4 442.64,166.4 441.42,168.5 442.64,170.6 440.21,170.6 439,172.7 437.79,170.6 435.36,170.6 436.58,168.5 435.36,166.4 437.79,166.4" fill="none" stroke="#7E2F8E" stroke-width="0.85" stroke-linejoin="miter"/>
<text class="s" stroke="#000" stroke-width="0.12"><tspan x="458.90" y="171.80" font-size="12.85px">2</tspan><tspan x="465.40" y="171.80" font-size="12.85px">0</tspan><tspan x="474.18" y="171.80" font-style="italic" font-size="12.48px" textLength="10.82" lengthAdjust="spacingAndGlyphs">K</tspan><tspan x="485.43" y="174.01" font-size="16.22px" textLength="5.86" lengthAdjust="spacingAndGlyphs">/</tspan><tspan x="491.61" y="171.80" font-style="italic" font-size="12.48px" textLength="11.41" lengthAdjust="spacingAndGlyphs">m</tspan><tspan x="503.02" y="171.80" font-style="italic" font-size="12.48px" textLength="4.48" lengthAdjust="spacingAndGlyphs">i</tspan><tspan x="507.51" y="171.80" font-style="italic" font-size="12.48px" textLength="7.80" lengthAdjust="spacingAndGlyphs">n</tspan></text>
<path d="M421.2 184.5H455.6" stroke="#FF0000" stroke-width="1"/>
<text class="s" stroke="#000" stroke-width="0.12"><tspan x="458.90" y="187.10" font-style="italic" font-size="12.48px" textLength="3.87" lengthAdjust="spacingAndGlyphs">l</tspan><tspan x="462.77" y="187.10" font-style="italic" font-size="12.48px" textLength="4.48" lengthAdjust="spacingAndGlyphs">i</tspan><tspan x="467.26" y="187.10" font-style="italic" font-size="12.48px" textLength="7.80" lengthAdjust="spacingAndGlyphs">n</tspan><tspan x="475.06" y="187.10" font-style="italic" font-size="12.48px" textLength="6.06" lengthAdjust="spacingAndGlyphs">e</tspan><tspan x="481.12" y="187.10" font-style="italic" font-size="12.48px" textLength="6.88" lengthAdjust="spacingAndGlyphs">a</tspan><tspan x="487.99" y="187.10" font-style="italic" font-size="12.48px" textLength="5.86" lengthAdjust="spacingAndGlyphs">r</tspan><tspan x="498.19" y="187.10" font-style="italic" font-size="12.48px" textLength="5.86" lengthAdjust="spacingAndGlyphs">r</tspan><tspan x="504.05" y="187.10" font-style="italic" font-size="12.48px" textLength="6.06" lengthAdjust="spacingAndGlyphs">e</tspan><tspan x="510.09" y="187.10" font-style="italic" font-size="12.48px">g</tspan><tspan x="516.31" y="187.10" font-style="italic" font-size="12.48px" textLength="5.86" lengthAdjust="spacingAndGlyphs">r</tspan><tspan x="522.17" y="187.10" font-style="italic" font-size="12.48px" textLength="6.06" lengthAdjust="spacingAndGlyphs">e</tspan><tspan x="528.23" y="187.10" font-style="italic" font-size="12.48px" textLength="6.10" lengthAdjust="spacingAndGlyphs">s</tspan><tspan x="534.33" y="187.10" font-style="italic" font-size="12.48px" textLength="6.10" lengthAdjust="spacingAndGlyphs">s</tspan><tspan x="540.42" y="187.10" font-style="italic" font-size="12.48px" textLength="4.48" lengthAdjust="spacingAndGlyphs">i</tspan><tspan x="544.91" y="187.10" font-style="italic" font-size="12.48px">o</tspan><tspan x="551.21" y="187.10" font-style="italic" font-size="12.48px" textLength="7.80" lengthAdjust="spacingAndGlyphs">n</tspan></text>
<rect x="53.7" y="291.4" width="217.4" height="34.7" fill="#fff" stroke="#262626" stroke-width="0.9"/>
<circle cx="74.8" cy="301" r="3.6" fill="none" stroke="#0072BD" stroke-width="0.85"/>
<path d="M57 317H92" stroke="#FF0000" stroke-width="1"/>
<text class="s" stroke="#000" stroke-width="0.12"><tspan x="95.00" y="304.30" font-style="italic" font-size="12.48px" textLength="7.80" lengthAdjust="spacingAndGlyphs">n</tspan><tspan x="102.80" y="304.30" font-style="italic" font-size="12.48px">o</tspan><tspan x="109.11" y="304.30" font-style="italic" font-size="12.48px" textLength="6.76" lengthAdjust="spacingAndGlyphs">d</tspan><tspan x="115.86" y="304.30" font-style="italic" font-size="12.48px" textLength="6.06" lengthAdjust="spacingAndGlyphs">e</tspan><tspan x="121.92" y="304.30" font-style="italic" font-size="12.48px" textLength="6.10" lengthAdjust="spacingAndGlyphs">s</tspan></text>
<text class="s" stroke="#000" stroke-width="0.12"><tspan x="95.50" y="320.20" font-size="12.75px">1</tspan><tspan x="101.95" y="320.20" font-size="12.75px">2</tspan><tspan x="108.39" y="320.20" font-size="12.38px" textLength="3.58" lengthAdjust="spacingAndGlyphs">.</tspan><tspan x="111.98" y="320.20" font-size="12.75px">1</tspan><tspan x="118.42" y="320.20" font-size="12.75px">4</tspan><tspan x="124.87" y="320.20" font-size="12.75px">3</tspan><tspan x="131.31" y="320.20" font-size="12.75px">5</tspan><tspan x="139.91" y="321.36" font-size="14.97px" textLength="3.58" lengthAdjust="spacingAndGlyphs">[</tspan><tspan x="143.50" y="320.20" font-style="italic" font-size="12.38px" textLength="8.25" lengthAdjust="spacingAndGlyphs">α</tspan><tspan x="154.61" y="320.20" font-size="12.38px" textLength="10.03" lengthAdjust="spacingAndGlyphs">+</tspan><tspan x="167.50" y="320.37" font-size="13.61px" textLength="5.01" lengthAdjust="spacingAndGlyphs">(</tspan><tspan x="172.51" y="320.20" font-size="12.75px">1</tspan><tspan x="181.82" y="320.20" font-size="12.38px" textLength="10.03" lengthAdjust="spacingAndGlyphs">−</tspan><tspan x="194.71" y="320.20" font-style="italic" font-size="12.38px" textLength="8.25" lengthAdjust="spacingAndGlyphs">α</tspan><tspan x="202.96" y="320.37" font-size="13.61px" textLength="5.01" lengthAdjust="spacingAndGlyphs">)</tspan><tspan x="210.13" y="320.20" font-size="12.38px" textLength="3.58" lengthAdjust="spacingAndGlyphs">l</tspan><tspan x="213.72" y="320.20" font-size="12.38px" textLength="7.17" lengthAdjust="spacingAndGlyphs">n</tspan><tspan x="223.04" y="320.37" font-size="13.61px" textLength="5.01" lengthAdjust="spacingAndGlyphs">(</tspan><tspan x="228.05" y="320.20" font-size="12.75px">1</tspan><tspan x="237.36" y="320.20" font-size="12.38px" textLength="10.03" lengthAdjust="spacingAndGlyphs">−</tspan><tspan x="250.25" y="320.20" font-style="italic" font-size="12.38px" textLength="8.25" lengthAdjust="spacingAndGlyphs">α</tspan><tspan x="258.50" y="320.37" font-size="13.61px" textLength="5.01" lengthAdjust="spacingAndGlyphs">)</tspan><tspan x="263.52" y="321.36" font-size="14.97px" textLength="3.58" lengthAdjust="spacingAndGlyphs">]</tspan></text>
<rect x="454.6" y="290.9" width="183.1" height="34.5" fill="#fff" stroke="#262626" stroke-width="0.9"/>
<circle cx="475.7" cy="300.2" r="3.6" fill="none" stroke="#0072BD" stroke-width="0.85"/>
<path d="M458 315.5H493.2" stroke="#FF0000" stroke-width="1.1" stroke-opacity="0.6"/>
<text class="s" stroke="#000" stroke-width="0.12"><tspan x="496.70" y="303.30" font-style="italic" font-size="12.48px" textLength="7.80" lengthAdjust="spacingAndGlyphs">n</tspan><tspan x="504.50" y="303.30" font-style="italic" font-size="12.48px">o</tspan><tspan x="510.81" y="303.30" font-style="italic" font-size="12.48px" textLength="6.76" lengthAdjust="spacingAndGlyphs">d</tspan><tspan x="517.56" y="303.30" font-style="italic" font-size="12.48px" textLength="6.06" lengthAdjust="spacingAndGlyphs">e</tspan><tspan x="523.62" y="303.30" font-style="italic" font-size="12.48px" textLength="6.10" lengthAdjust="spacingAndGlyphs">s</tspan></text>
<text class="s" stroke="#000" stroke-width="0.12"><tspan x="497.00" y="319.75" font-size="14.82px" textLength="3.55" lengthAdjust="spacingAndGlyphs">[</tspan><tspan x="500.55" y="318.60" font-size="12.25px" textLength="9.93" lengthAdjust="spacingAndGlyphs">−</tspan><tspan x="510.47" y="318.60" font-size="12.62px">1</tspan><tspan x="517.17" y="320.77" font-size="15.92px" textLength="5.75" lengthAdjust="spacingAndGlyphs">/</tspan><tspan x="525.36" y="318.60" font-size="12.25px" textLength="3.55" lengthAdjust="spacingAndGlyphs">l</tspan><tspan x="528.91" y="318.60" font-size="12.25px" textLength="7.09" lengthAdjust="spacingAndGlyphs">n</tspan><tspan x="538.14" y="318.77" font-size="13.47px" textLength="4.96" lengthAdjust="spacingAndGlyphs">(</tspan><tspan x="543.10" y="318.60" font-size="12.62px">1</tspan><tspan x="552.31" y="318.60" font-size="12.25px" textLength="9.93" lengthAdjust="spacingAndGlyphs">−</tspan><tspan x="565.07" y="318.60" font-style="italic" font-size="12.25px" textLength="8.17" lengthAdjust="spacingAndGlyphs">α</tspan><tspan x="573.24" y="318.77" font-size="13.47px" textLength="4.96" lengthAdjust="spacingAndGlyphs">)</tspan><tspan x="578.20" y="319.75" font-size="14.82px" textLength="3.55" lengthAdjust="spacingAndGlyphs">]</tspan><tspan x="585.61" y="320.77" font-size="15.92px" textLength="5.75" lengthAdjust="spacingAndGlyphs">/</tspan><tspan x="591.67" y="318.60" font-size="12.62px">1</tspan><tspan x="598.05" y="318.60" font-size="12.62px">2</tspan><tspan x="604.43" y="318.60" font-size="12.25px" textLength="3.55" lengthAdjust="spacingAndGlyphs">.</tspan><tspan x="607.98" y="318.60" font-size="12.62px">1</tspan><tspan x="614.36" y="318.60" font-size="12.62px">4</tspan><tspan x="620.74" y="318.60" font-size="12.62px">3</tspan><tspan x="627.12" y="318.60" font-size="12.62px">5</tspan></text>
<text class="s" stroke="#000" stroke-width="0.12"><tspan x="550.80" y="25.40" font-size="12.48px" textLength="3.61" lengthAdjust="spacingAndGlyphs">l</tspan><tspan x="554.41" y="25.40" font-size="12.48px" textLength="7.23" lengthAdjust="spacingAndGlyphs">n</tspan><tspan x="563.81" y="26.57" font-size="15.10px" textLength="3.61" lengthAdjust="spacingAndGlyphs">[</tspan><tspan x="567.43" y="25.40" font-style="italic" font-size="12.48px">c</tspan><tspan x="573.06" y="25.40" font-style="italic" font-size="12.48px" textLength="9.75" lengthAdjust="spacingAndGlyphs">A</tspan><tspan x="582.81" y="26.57" font-size="15.10px" textLength="3.61" lengthAdjust="spacingAndGlyphs">]</tspan><tspan x="590.03" y="25.40" font-size="12.48px" textLength="10.11" lengthAdjust="spacingAndGlyphs">=</tspan><tspan x="603.76" y="25.40" font-size="12.85px">3</tspan><tspan x="610.26" y="25.40" font-size="12.85px">0</tspan><tspan x="616.76" y="25.40" font-size="12.48px" textLength="3.61" lengthAdjust="spacingAndGlyphs">.</tspan><tspan x="620.38" y="25.40" font-size="12.85px">4</tspan><tspan x="626.88" y="25.40" font-size="12.85px">1</tspan><tspan x="633.38" y="25.40" font-size="12.85px">5</tspan><tspan x="639.88" y="25.40" font-size="12.85px">7</tspan></text>
<text class="s" stroke="#000" stroke-width="0.12"><tspan x="550.60" y="41.40" font-style="italic" font-size="12.48px" textLength="9.59" lengthAdjust="spacingAndGlyphs">E</tspan><tspan x="563.81" y="41.40" font-size="12.48px" textLength="10.11" lengthAdjust="spacingAndGlyphs">=</tspan><tspan x="577.54" y="41.40" font-size="12.85px">1</tspan><tspan x="584.04" y="41.40" font-size="12.85px">8</tspan><tspan x="590.54" y="41.40" font-size="12.85px">0</tspan><tspan x="597.04" y="41.40" font-size="12.48px" textLength="3.61" lengthAdjust="spacingAndGlyphs">.</tspan><tspan x="600.65" y="41.40" font-size="12.85px">0</tspan><tspan x="607.15" y="41.40" font-size="12.85px">0</tspan><tspan x="613.65" y="41.40" font-size="12.85px">1</tspan><tspan x="624.48" y="41.40" font-style="italic" font-size="12.48px" textLength="6.77" lengthAdjust="spacingAndGlyphs">k</tspan><tspan x="631.77" y="41.40" font-style="italic" font-size="12.48px" textLength="7.20" lengthAdjust="spacingAndGlyphs">J</tspan><tspan x="639.80" y="43.61" font-size="16.22px" textLength="5.86" lengthAdjust="spacingAndGlyphs">/</tspan><tspan x="645.98" y="41.40" font-style="italic" font-size="12.48px" textLength="11.41" lengthAdjust="spacingAndGlyphs">m</tspan><tspan x="657.39" y="41.40" font-style="italic" font-size="12.48px">o</tspan><tspan x="663.70" y="41.40" font-style="italic" font-size="12.48px" textLength="3.87" lengthAdjust="spacingAndGlyphs">l</tspan></text>
<text class="s" stroke="#000" stroke-width="0.12"><tspan x="564.40" y="57.10" font-style="italic" font-size="12.48px" textLength="9.87" lengthAdjust="spacingAndGlyphs">R</tspan><tspan x="574.27" y="52.38" font-size="9.00px">2</tspan><tspan x="582.43" y="57.10" font-size="12.48px" textLength="10.11" lengthAdjust="spacingAndGlyphs">=</tspan><tspan x="596.16" y="57.10" font-size="12.85px">1</tspan></text>
<text class="s" stroke="#000" stroke-width="0.12"><tspan x="564.40" y="73.50" font-style="italic" font-size="12.48px" textLength="9.87" lengthAdjust="spacingAndGlyphs">R</tspan><tspan x="574.27" y="68.78" font-size="9.00px">2</tspan><tspan x="574.27" y="76.75" font-style="italic" font-size="8.74px" textLength="4.81" lengthAdjust="spacingAndGlyphs">a</tspan><tspan x="579.08" y="76.75" font-style="italic" font-size="8.74px" textLength="4.73" lengthAdjust="spacingAndGlyphs">d</tspan><tspan x="584.11" y="76.75" font-style="italic" font-size="8.74px" textLength="3.16" lengthAdjust="spacingAndGlyphs">j</tspan><tspan x="591.18" y="73.50" font-size="12.48px" textLength="10.11" lengthAdjust="spacingAndGlyphs">=</tspan><tspan x="604.90" y="73.50" font-size="12.85px">1</tspan></text>
<text class="s"><tspan x="152.90" y="240.80" font-style="italic" font-size="19.39px" textLength="11.80" lengthAdjust="spacingAndGlyphs">T</tspan><tspan x="170.35" y="241.06" font-size="21.33px" textLength="7.86" lengthAdjust="spacingAndGlyphs">(</tspan><tspan x="178.21" y="240.80" font-size="18.81px" textLength="7.84" lengthAdjust="spacingAndGlyphs">°</tspan><tspan x="186.05" y="240.80" font-style="italic" font-size="19.39px" textLength="14.44" lengthAdjust="spacingAndGlyphs">C</tspan><tspan x="201.91" y="241.06" font-size="21.33px" textLength="7.86" lengthAdjust="spacingAndGlyphs">)</tspan></text>
<g transform="translate(11.8 102.6) rotate(-90)"><text class="s"><tspan x="-6.56" y="0.00" font-style="italic" font-size="19.68px" textLength="13.12" lengthAdjust="spacingAndGlyphs">α</tspan></text></g>
<text class="s"><tspan x="175.54" y="524.40" font-style="italic" font-size="19.68px" textLength="13.12" lengthAdjust="spacingAndGlyphs">α</tspan></text>
<text class="s"><tspan x="539.44" y="524.40" font-style="italic" font-size="19.68px" textLength="13.12" lengthAdjust="spacingAndGlyphs">α</tspan></text>
<g transform="translate(15.5 383.4) rotate(-90)"><text class="s"><tspan x="-30.25" y="1.79" font-size="23.04px" textLength="5.51" lengthAdjust="spacingAndGlyphs">[</tspan><tspan x="-24.74" y="0.00" font-style="italic" font-size="19.04px">c</tspan><tspan x="-16.15" y="0.00" font-style="italic" font-size="19.04px" textLength="12.75" lengthAdjust="spacingAndGlyphs">F</tspan><tspan x="-3.39" y="0.26" font-size="20.95px" textLength="7.72" lengthAdjust="spacingAndGlyphs">(</tspan><tspan x="4.32" y="0.00" font-style="italic" font-size="19.04px" textLength="12.70" lengthAdjust="spacingAndGlyphs">α</tspan><tspan x="17.02" y="0.26" font-size="20.95px" textLength="7.72" lengthAdjust="spacingAndGlyphs">)</tspan><tspan x="24.74" y="1.79" font-size="23.04px" textLength="5.51" lengthAdjust="spacingAndGlyphs">]</tspan></text></g>
<g transform="translate(375.8 384.4) rotate(-90)"><text class="s"><tspan x="-33.80" y="1.79" font-size="23.12px" textLength="5.53" lengthAdjust="spacingAndGlyphs">[</tspan><tspan x="-26.84" y="0.00" font-style="italic" font-size="19.10px" textLength="6.90" lengthAdjust="spacingAndGlyphs">f</tspan><tspan x="-18.52" y="0.26" font-size="21.01px" textLength="7.74" lengthAdjust="spacingAndGlyphs">(</tspan><tspan x="-10.78" y="0.00" font-style="italic" font-size="19.10px" textLength="12.74" lengthAdjust="spacingAndGlyphs">α</tspan><tspan x="1.96" y="0.26" font-size="21.01px" textLength="7.74" lengthAdjust="spacingAndGlyphs">)</tspan><tspan x="10.19" y="3.38" font-size="24.84px" textLength="8.97" lengthAdjust="spacingAndGlyphs">/</tspan><tspan x="19.65" y="0.00" font-style="italic" font-size="19.10px">c</tspan><tspan x="28.27" y="1.79" font-size="23.12px" textLength="5.53" lengthAdjust="spacingAndGlyphs">]</tspan></text></g>
<g transform="rotate(-90)">
<text class="s"><tspan x="-153.80" y="368.60" font-size="20.03px" textLength="5.80" lengthAdjust="spacingAndGlyphs">l</tspan><tspan x="-148.00" y="368.60" font-size="20.03px" textLength="11.60" lengthAdjust="spacingAndGlyphs">n</tspan></text>
<text class="s" font-size="46px" transform="translate(-127.7 0) scale(0.45 1)" x="-4" y="375.6">[</text>
<text class="s" font-size="46px" transform="translate(-58.4 0) scale(0.45 1)" x="-6" y="375.6">]</text>
<path d="M-120.2 362.6H-63.2" stroke="#000" stroke-width="0.9" fill="none"/>
<text class="s"><tspan x="-120.30" y="359.30" font-style="italic" font-size="14.92px" textLength="8.80" lengthAdjust="spacingAndGlyphs">β</tspan><tspan x="-111.50" y="360.70" font-size="18.05px" textLength="4.32" lengthAdjust="spacingAndGlyphs">[</tspan><tspan x="-107.18" y="359.30" font-style="italic" font-size="14.92px">c</tspan><tspan x="-100.45" y="359.30" font-style="italic" font-size="14.92px" textLength="9.99" lengthAdjust="spacingAndGlyphs">F</tspan><tspan x="-90.46" y="359.50" font-size="16.41px" textLength="6.05" lengthAdjust="spacingAndGlyphs">(</tspan><tspan x="-84.41" y="359.30" font-style="italic" font-size="14.92px" textLength="9.95" lengthAdjust="spacingAndGlyphs">α</tspan><tspan x="-74.47" y="359.50" font-size="16.41px" textLength="6.05" lengthAdjust="spacingAndGlyphs">)</tspan><tspan x="-68.42" y="360.70" font-size="18.05px" textLength="4.32" lengthAdjust="spacingAndGlyphs">]</tspan></text>
<text class="s"><tspan x="-102.43" y="376.20" font-style="italic" font-size="15.55px" textLength="9.46" lengthAdjust="spacingAndGlyphs">T</tspan><tspan x="-92.97" y="369.72" font-style="italic" font-size="10.89px" textLength="8.61" lengthAdjust="spacingAndGlyphs">B</tspan></text>
</g>
<path d="M512.4 238H529.9M548.9 238H569.3" stroke="#000" stroke-width="0.8"/>
<text class="s"><tspan x="517.38" y="235.30" font-size="15.13px">1</tspan></text>
<text class="s"><tspan x="555.27" y="235.30" font-size="15.13px">1</tspan></text>
<text class="s"><tspan x="513.74" y="251.60" font-style="italic" font-size="15.55px" textLength="9.46" lengthAdjust="spacingAndGlyphs">T</tspan><tspan x="522.91" y="245.12" font-style="italic" font-size="10.89px">b</tspan></text>
<text class="s"><tspan x="549.73" y="251.60" font-style="italic" font-size="15.55px" textLength="13.48" lengthAdjust="spacingAndGlyphs">K</tspan><tspan x="563.06" y="245.12" font-style="italic" font-size="10.89px">b</tspan></text>
<text class="s" font-size="29px" transform="translate(541.2 0) scale(0.7 1)" x="-4.5" y="245">(</text>
<text class="s" font-size="29px" transform="translate(576.3 0) scale(0.7 1)" x="-5" y="245">)</text>
</svg>
</body></html>
